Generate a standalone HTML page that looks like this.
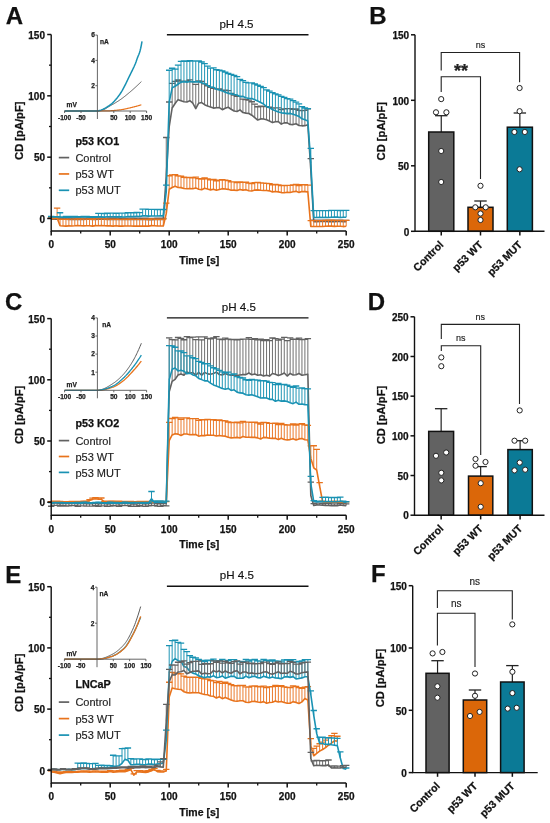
<!DOCTYPE html>
<html><head><meta charset="utf-8"><style>
html,body{margin:0;padding:0;background:#fff;}
svg{display:block;font-family:"Liberation Sans", sans-serif;will-change:transform;}
</style></head><body>
<svg width="550" height="823" viewBox="0 0 550 823">
<rect width="550" height="823" fill="#fff"/>
<line x1="166.90" y1="34.80" x2="308.50" y2="34.80" stroke="#111" stroke-width="1.6" stroke-linecap="butt"/>
<text x="236.5" y="27.6" font-size="11.6" font-weight="normal" text-anchor="middle" fill="#111" stroke="#111" stroke-width="0.15">pH 4.5</text>
<path d="M51.20 219.18V217.95M54.15 219.25V218.02M57.10 219.08V217.85M60.05 219.30V218.07M63.00 219.14V217.91M65.95 219.21V217.98M68.90 219.33V218.11M71.85 219.18V217.95M74.80 219.36V218.13M77.75 219.22V218.00M80.70 219.37V218.14M83.65 219.37V218.14M86.60 219.26V218.03M89.55 219.12V217.89M92.50 219.39V218.16M95.45 219.36V218.13M98.40 219.22V217.99M101.35 219.11V217.88M104.30 219.26V218.03M107.25 219.33V218.11M110.20 219.13V217.90M113.15 219.48V218.25M116.10 219.19V217.97M119.05 219.41V218.18M122.00 219.47V218.25M124.95 219.49V218.27M127.90 219.43V218.21M130.85 219.26V218.03M133.80 219.50V218.27M136.75 219.36V218.13M139.70 219.35V218.12M142.65 219.46V218.23M145.60 219.40V218.18M148.55 219.59V218.36M151.50 219.60V218.37M154.45 219.56V218.33M157.40 219.39V218.17M160.35 219.49V218.27M163.30 219.55V218.32M166.25 175.53V137.51M169.20 126.51V101.98M172.15 107.97V83.44M175.10 103.44V81.36M178.05 99.63V80.01M181.00 100.68V81.06M183.95 101.73V81.30M186.90 101.98V81.13M189.85 100.69V79.84M192.80 103.13V81.69M195.75 108.61V84.37M198.70 103.21V80.83M201.65 102.56V81.37M204.60 104.72V83.87M207.55 106.09V85.73M210.50 106.94V87.31M213.45 108.10V88.47M216.40 107.70V88.90M219.35 107.67V88.86M222.30 109.71V90.24M225.25 108.21V90.19M228.20 107.25V90.62M231.15 109.24V93.29M234.10 111.04V95.09M237.05 111.46V96.33M240.00 109.86V96.37M242.95 112.57V99.07M245.90 113.12V99.63M248.85 113.54V100.04M251.80 115.24V101.75M254.75 117.64V104.15M257.70 120.05V106.75M260.65 118.90V106.21M263.60 119.07V106.60M266.55 119.77V106.68M269.50 121.03V107.24M272.45 122.60V107.98M275.40 121.79V107.80M278.35 121.58V107.80M281.30 124.08V109.59M284.25 122.88V108.83M287.20 122.90V108.68M290.15 124.45V108.57M293.10 124.59V109.24M296.05 123.72V108.99M299.00 125.47V110.34M301.95 125.83V110.49M304.90 125.65V110.32M307.85 124.82V108.87M310.80 169.59V158.55M313.75 221.71V220.24M316.70 221.67V220.20M319.65 221.55V220.08M322.60 221.57V220.10M325.55 221.56V220.08M328.50 221.77V220.30M331.45 221.72V220.25M334.40 221.74V220.27M337.35 221.55V220.08M340.30 221.52V220.05M343.25 221.82V220.35M346.20 221.81V220.34" stroke="#707070" stroke-width="1.0" fill="none"/>
<path d="M48.00 217.95H54.40M50.95 218.02H57.35M53.90 217.85H60.30M56.85 218.07H63.25M59.80 217.91H66.20M62.75 217.98H69.15M65.70 218.11H72.10M68.65 217.95H75.05M71.60 218.13H78.00M74.55 218.00H80.95M77.50 218.14H83.90M80.45 218.14H86.85M83.40 218.03H89.80M86.35 217.89H92.75M89.30 218.16H95.70M92.25 218.13H98.65M95.20 217.99H101.60M98.15 217.88H104.55M101.10 218.03H107.50M104.05 218.11H110.45M107.00 217.90H113.40M109.95 218.25H116.35M112.90 217.97H119.30M115.85 218.18H122.25M118.80 218.25H125.20M121.75 218.27H128.15M124.70 218.21H131.10M127.65 218.03H134.05M130.60 218.27H137.00M133.55 218.13H139.95M136.50 218.12H142.90M139.45 218.23H145.85M142.40 218.18H148.80M145.35 218.36H151.75M148.30 218.37H154.70M151.25 218.33H157.65M154.20 218.17H160.60M157.15 218.27H163.55M160.10 218.32H166.50M163.05 137.51H169.45M166.00 101.98H172.40M168.95 83.44H175.35M171.90 81.36H178.30M174.85 80.01H181.25M177.80 81.06H184.20M180.75 81.30H187.15M183.70 81.13H190.10M186.65 79.84H193.05M189.60 81.69H196.00M192.55 84.37H198.95M195.50 80.83H201.90M198.45 81.37H204.85M201.40 83.87H207.80M204.35 85.73H210.75M207.30 87.31H213.70M210.25 88.47H216.65M213.20 88.90H219.60M216.15 88.86H222.55M219.10 90.24H225.50M222.05 90.19H228.45M225.00 90.62H231.40M227.95 93.29H234.35M230.90 95.09H237.30M233.85 96.33H240.25M236.80 96.37H243.20M239.75 99.07H246.15M242.70 99.63H249.10M245.65 100.04H252.05M248.60 101.75H255.00M251.55 104.15H257.95M254.50 106.75H260.90M257.45 106.21H263.85M260.40 106.60H266.80M263.35 106.68H269.75M266.30 107.24H272.70M269.25 107.98H275.65M272.20 107.80H278.60M275.15 107.80H281.55M278.10 109.59H284.50M281.05 108.83H287.45M284.00 108.68H290.40M286.95 108.57H293.35M289.90 109.24H296.30M292.85 108.99H299.25M295.80 110.34H302.20M298.75 110.49H305.15M301.70 110.32H308.10M304.65 108.87H311.05M307.60 158.55H314.00M310.55 220.24H316.95M313.50 220.20H319.90M316.45 220.08H322.85M319.40 220.10H325.80M322.35 220.08H328.75M325.30 220.30H331.70M328.25 220.25H334.65M331.20 220.27H337.60M334.15 220.08H340.55M337.10 220.05H343.50M340.05 220.35H346.45M343.00 220.34H349.40" stroke="#616161" stroke-width="1.3" fill="none"/>
<path d="M51.20 219.18 L54.15 219.25 L57.10 219.08 L60.05 219.30 L63.00 219.14 L65.95 219.21 L68.90 219.33 L71.85 219.18 L74.80 219.36 L77.75 219.22 L80.70 219.37 L83.65 219.37 L86.60 219.26 L89.55 219.12 L92.50 219.39 L95.45 219.36 L98.40 219.22 L101.35 219.11 L104.30 219.26 L107.25 219.33 L110.20 219.13 L113.15 219.48 L116.10 219.19 L119.05 219.41 L122.00 219.47 L124.95 219.49 L127.90 219.43 L130.85 219.26 L133.80 219.50 L136.75 219.36 L139.70 219.35 L142.65 219.46 L145.60 219.40 L148.55 219.59 L151.50 219.60 L154.45 219.56 L157.40 219.39 L160.35 219.49 L163.30 219.55 L166.25 175.53 L169.20 126.51 L172.15 107.97 L175.10 103.44 L178.05 99.63 L181.00 100.68 L183.95 101.73 L186.90 101.98 L189.85 100.69 L192.80 103.13 L195.75 108.61 L198.70 103.21 L201.65 102.56 L204.60 104.72 L207.55 106.09 L210.50 106.94 L213.45 108.10 L216.40 107.70 L219.35 107.67 L222.30 109.71 L225.25 108.21 L228.20 107.25 L231.15 109.24 L234.10 111.04 L237.05 111.46 L240.00 109.86 L242.95 112.57 L245.90 113.12 L248.85 113.54 L251.80 115.24 L254.75 117.64 L257.70 120.05 L260.65 118.90 L263.60 119.07 L266.55 119.77 L269.50 121.03 L272.45 122.60 L275.40 121.79 L278.35 121.58 L281.30 124.08 L284.25 122.88 L287.20 122.90 L290.15 124.45 L293.10 124.59 L296.05 123.72 L299.00 125.47 L301.95 125.83 L304.90 125.65 L307.85 124.82 L310.80 169.59 L313.75 221.71 L316.70 221.67 L319.65 221.55 L322.60 221.57 L325.55 221.56 L328.50 221.77 L331.45 221.72 L334.40 221.74 L337.35 221.55 L340.30 221.52 L343.25 221.82 L346.20 221.81" stroke="#616161" stroke-width="1.6" fill="none" stroke-linejoin="round"/>
<path d="M51.20 218.65V218.03M54.15 218.65V217.42M57.10 217.89V208.08M60.05 225.81V219.06M63.00 225.99V219.24M65.95 226.13V219.39M68.90 225.90V219.16M71.85 225.93V219.19M74.80 225.82V219.08M77.75 225.61V218.86M80.70 225.76V219.01M83.65 225.85V219.10M86.60 225.80V219.05M89.55 225.76V219.02M92.50 226.11V219.36M95.45 225.64V218.89M98.40 225.71V218.96M101.35 225.65V218.91M104.30 225.70V218.95M107.25 225.92V219.17M110.20 225.92V219.17M113.15 226.08V219.33M116.10 225.79V219.04M119.05 226.10V219.35M122.00 226.10V219.35M124.95 226.02V219.27M127.90 226.05V219.30M130.85 225.95V219.20M133.80 226.11V219.36M136.75 226.14V219.39M139.70 226.05V219.31M142.65 226.08V219.33M145.60 225.94V219.19M148.55 226.12V219.38M151.50 225.65V218.91M154.45 225.80V219.05M157.40 226.05V219.31M160.35 226.00V219.25M163.30 225.94V219.20M166.25 213.67V203.12M169.20 189.27V175.77M172.15 187.50V174.92M175.10 186.31V174.66M178.05 187.47V175.93M181.00 187.62V176.21M183.95 188.53V177.25M186.90 188.69V177.52M189.85 188.43V177.39M192.80 188.76V177.84M195.75 187.90V177.11M198.70 189.31V178.64M201.65 189.75V179.20M204.60 188.23V177.80M207.55 189.09V178.89M210.50 189.87V179.90M213.45 189.23V179.47M216.40 190.26V180.73M219.35 189.42V180.11M222.30 188.67V179.59M225.25 188.96V180.11M228.20 189.35V180.72M231.15 190.23V181.83M234.10 190.12V181.94M237.05 190.57V182.62M240.00 189.54V181.81M242.95 190.10V182.43M245.90 189.77V182.15M248.85 190.72V183.15M251.80 191.04V183.52M254.75 190.08V182.61M257.70 189.88V182.46M260.65 190.25V182.88M263.60 190.46V183.14M266.55 190.56V183.29M269.50 190.83V183.61M272.45 191.89V184.73M275.40 191.48V184.37M278.35 191.88V184.79M281.30 192.58V185.51M284.25 192.68V185.63M287.20 192.31V185.29M290.15 192.45V185.45M293.10 191.75V184.78M296.05 191.36V184.42M299.00 192.39V185.48M301.95 191.59V184.70M304.90 191.60V184.73M307.85 191.90V185.16M310.80 226.43V220.54M313.75 226.51V220.62M316.70 226.50V220.61M319.65 226.52V220.63M322.60 226.51V220.63M325.55 226.28V220.39M328.50 226.13V220.24M331.45 226.16V220.27M334.40 226.36V220.47M337.35 226.27V220.38M340.30 226.19V220.30M343.25 226.58V220.69M346.20 226.26V220.37" stroke="#ea7b2e" stroke-width="1.0" fill="none"/>
<path d="M48.00 218.03H54.40M50.95 217.42H57.35M53.90 208.08H60.30M56.85 219.06H63.25M59.80 219.24H66.20M62.75 219.39H69.15M65.70 219.16H72.10M68.65 219.19H75.05M71.60 219.08H78.00M74.55 218.86H80.95M77.50 219.01H83.90M80.45 219.10H86.85M83.40 219.05H89.80M86.35 219.02H92.75M89.30 219.36H95.70M92.25 218.89H98.65M95.20 218.96H101.60M98.15 218.91H104.55M101.10 218.95H107.50M104.05 219.17H110.45M107.00 219.17H113.40M109.95 219.33H116.35M112.90 219.04H119.30M115.85 219.35H122.25M118.80 219.35H125.20M121.75 219.27H128.15M124.70 219.30H131.10M127.65 219.20H134.05M130.60 219.36H137.00M133.55 219.39H139.95M136.50 219.31H142.90M139.45 219.33H145.85M142.40 219.19H148.80M145.35 219.38H151.75M148.30 218.91H154.70M151.25 219.05H157.65M154.20 219.31H160.60M157.15 219.25H163.55M160.10 219.20H166.50M163.05 203.12H169.45M166.00 175.77H172.40M168.95 174.92H175.35M171.90 174.66H178.30M174.85 175.93H181.25M177.80 176.21H184.20M180.75 177.25H187.15M183.70 177.52H190.10M186.65 177.39H193.05M189.60 177.84H196.00M192.55 177.11H198.95M195.50 178.64H201.90M198.45 179.20H204.85M201.40 177.80H207.80M204.35 178.89H210.75M207.30 179.90H213.70M210.25 179.47H216.65M213.20 180.73H219.60M216.15 180.11H222.55M219.10 179.59H225.50M222.05 180.11H228.45M225.00 180.72H231.40M227.95 181.83H234.35M230.90 181.94H237.30M233.85 182.62H240.25M236.80 181.81H243.20M239.75 182.43H246.15M242.70 182.15H249.10M245.65 183.15H252.05M248.60 183.52H255.00M251.55 182.61H257.95M254.50 182.46H260.90M257.45 182.88H263.85M260.40 183.14H266.80M263.35 183.29H269.75M266.30 183.61H272.70M269.25 184.73H275.65M272.20 184.37H278.60M275.15 184.79H281.55M278.10 185.51H284.50M281.05 185.63H287.45M284.00 185.29H290.40M286.95 185.45H293.35M289.90 184.78H296.30M292.85 184.42H299.25M295.80 185.48H302.20M298.75 184.70H305.15M301.70 184.73H308.10M304.65 185.16H311.05M307.60 220.54H314.00M310.55 220.62H316.95M313.50 220.61H319.90M316.45 220.63H322.85M319.40 220.63H325.80M322.35 220.39H328.75M325.30 220.24H331.70M328.25 220.27H334.65M331.20 220.47H337.60M334.15 220.38H340.55M337.10 220.30H343.50M340.05 220.69H346.45M343.00 220.37H349.40" stroke="#e8731c" stroke-width="1.3" fill="none"/>
<path d="M51.20 218.65 L54.15 218.65 L57.10 217.89 L60.05 225.81 L63.00 225.99 L65.95 226.13 L68.90 225.90 L71.85 225.93 L74.80 225.82 L77.75 225.61 L80.70 225.76 L83.65 225.85 L86.60 225.80 L89.55 225.76 L92.50 226.11 L95.45 225.64 L98.40 225.71 L101.35 225.65 L104.30 225.70 L107.25 225.92 L110.20 225.92 L113.15 226.08 L116.10 225.79 L119.05 226.10 L122.00 226.10 L124.95 226.02 L127.90 226.05 L130.85 225.95 L133.80 226.11 L136.75 226.14 L139.70 226.05 L142.65 226.08 L145.60 225.94 L148.55 226.12 L151.50 225.65 L154.45 225.80 L157.40 226.05 L160.35 226.00 L163.30 225.94 L166.25 213.67 L169.20 189.27 L172.15 187.50 L175.10 186.31 L178.05 187.47 L181.00 187.62 L183.95 188.53 L186.90 188.69 L189.85 188.43 L192.80 188.76 L195.75 187.90 L198.70 189.31 L201.65 189.75 L204.60 188.23 L207.55 189.09 L210.50 189.87 L213.45 189.23 L216.40 190.26 L219.35 189.42 L222.30 188.67 L225.25 188.96 L228.20 189.35 L231.15 190.23 L234.10 190.12 L237.05 190.57 L240.00 189.54 L242.95 190.10 L245.90 189.77 L248.85 190.72 L251.80 191.04 L254.75 190.08 L257.70 189.88 L260.65 190.25 L263.60 190.46 L266.55 190.56 L269.50 190.83 L272.45 191.89 L275.40 191.48 L278.35 191.88 L281.30 192.58 L284.25 192.68 L287.20 192.31 L290.15 192.45 L293.10 191.75 L296.05 191.36 L299.00 192.39 L301.95 191.59 L304.90 191.60 L307.85 191.90 L310.80 226.43 L313.75 226.51 L316.70 226.50 L319.65 226.52 L322.60 226.51 L325.55 226.28 L328.50 226.13 L331.45 226.16 L334.40 226.36 L337.35 226.27 L340.30 226.19 L343.25 226.58 L346.20 226.26" stroke="#e8731c" stroke-width="1.6" fill="none" stroke-linejoin="round"/>
<path d="M51.20 216.85V216.48M54.15 216.90V216.54M57.10 216.92V216.55M60.05 217.04V212.74M65.95 216.90V216.51M68.90 217.10V216.69M71.85 216.90V216.46M74.80 216.82V216.36M77.75 217.07V216.59M80.70 217.07V216.57M83.65 216.83V216.31M86.60 216.93V216.38M89.55 217.17V216.60M92.50 217.19V216.60M95.45 217.18V216.57M98.40 216.85V213.41M101.35 216.86V213.39M104.30 217.11V213.61M107.25 216.78V213.24M110.20 216.68V213.10M113.15 216.78V213.17M116.10 216.88V213.24M119.05 216.76V213.08M122.00 216.91V213.20M124.95 216.93V213.18M127.90 216.47V212.68M130.85 216.58V212.76M133.80 216.60V212.74M136.75 216.38V212.49M139.70 216.57V212.64M142.65 215.88V209.14M145.60 215.87V209.17M148.55 216.11V209.46M151.50 216.06V209.46M154.45 216.01V209.46M157.40 216.00V209.50M160.35 215.81V209.36M163.30 215.92V209.52M166.25 191.55V185.05M169.20 102.13V70.23M172.15 87.87V68.24M175.10 86.23V69.06M178.05 84.24V65.22M181.00 82.21V61.36M183.95 81.65V60.80M186.90 82.27V61.42M189.85 81.45V60.60M192.80 81.97V61.12M195.75 81.84V60.98M198.70 81.76V60.91M201.65 82.74V62.02M204.60 83.65V63.59M207.55 85.56V66.15M210.50 87.22V68.11M213.45 87.23V67.88M216.40 89.33V69.75M219.35 90.07V70.25M222.30 90.87V70.82M225.25 92.22V72.05M228.20 93.35V73.51M231.15 93.85V74.36M234.10 94.58V75.43M237.05 94.94V76.62M240.00 96.59V79.42M242.95 96.58V80.55M245.90 97.75V82.35M248.85 98.51V82.96M251.80 98.59V82.87M254.75 99.79V83.91M257.70 101.08V85.03M260.65 102.54V86.32M263.60 104.07V87.67M266.55 106.52V89.94M269.50 107.88V91.14M272.45 109.45V92.57M275.40 110.85V93.83M278.35 111.99V94.83M281.30 112.85V96.36M284.25 113.16V97.42M287.20 113.66V98.67M290.15 113.40V99.16M293.10 114.18V100.69M296.05 115.24V102.21M299.00 116.46V103.89M301.95 118.79V106.67M304.90 119.66V108.01M307.85 120.94V108.67M310.80 163.15V148.43M313.75 217.43V210.69M316.70 217.44V210.69M319.65 217.30V210.55M322.60 217.46V210.72M325.55 217.39V210.64M328.50 217.46V210.71M331.45 217.20V210.45M334.40 217.15V210.40M337.35 217.10V210.35M340.30 217.43V210.68M343.25 217.18V210.43M346.20 217.20V210.46" stroke="#2196b5" stroke-width="1.0" fill="none"/>
<path d="M48.00 216.48H54.40M50.95 216.54H57.35M53.90 216.55H60.30M56.85 212.74H63.25M62.75 216.51H69.15M65.70 216.69H72.10M68.65 216.46H75.05M71.60 216.36H78.00M74.55 216.59H80.95M77.50 216.57H83.90M80.45 216.31H86.85M83.40 216.38H89.80M86.35 216.60H92.75M89.30 216.60H95.70M92.25 216.57H98.65M95.20 213.41H101.60M98.15 213.39H104.55M101.10 213.61H107.50M104.05 213.24H110.45M107.00 213.10H113.40M109.95 213.17H116.35M112.90 213.24H119.30M115.85 213.08H122.25M118.80 213.20H125.20M121.75 213.18H128.15M124.70 212.68H131.10M127.65 212.76H134.05M130.60 212.74H137.00M133.55 212.49H139.95M136.50 212.64H142.90M139.45 209.14H145.85M142.40 209.17H148.80M145.35 209.46H151.75M148.30 209.46H154.70M151.25 209.46H157.65M154.20 209.50H160.60M157.15 209.36H163.55M160.10 209.52H166.50M163.05 185.05H169.45M166.00 70.23H172.40M168.95 68.24H175.35M171.90 69.06H178.30M174.85 65.22H181.25M177.80 61.36H184.20M180.75 60.80H187.15M183.70 61.42H190.10M186.65 60.60H193.05M189.60 61.12H196.00M192.55 60.98H198.95M195.50 60.91H201.90M198.45 62.02H204.85M201.40 63.59H207.80M204.35 66.15H210.75M207.30 68.11H213.70M210.25 67.88H216.65M213.20 69.75H219.60M216.15 70.25H222.55M219.10 70.82H225.50M222.05 72.05H228.45M225.00 73.51H231.40M227.95 74.36H234.35M230.90 75.43H237.30M233.85 76.62H240.25M236.80 79.42H243.20M239.75 80.55H246.15M242.70 82.35H249.10M245.65 82.96H252.05M248.60 82.87H255.00M251.55 83.91H257.95M254.50 85.03H260.90M257.45 86.32H263.85M260.40 87.67H266.80M263.35 89.94H269.75M266.30 91.14H272.70M269.25 92.57H275.65M272.20 93.83H278.60M275.15 94.83H281.55M278.10 96.36H284.50M281.05 97.42H287.45M284.00 98.67H290.40M286.95 99.16H293.35M289.90 100.69H296.30M292.85 102.21H299.25M295.80 103.89H302.20M298.75 106.67H305.15M301.70 108.01H308.10M304.65 108.67H311.05M307.60 148.43H314.00M310.55 210.69H316.95M313.50 210.69H319.90M316.45 210.55H322.85M319.40 210.72H325.80M322.35 210.64H328.75M325.30 210.71H331.70M328.25 210.45H334.65M331.20 210.40H337.60M334.15 210.35H340.55M337.10 210.68H343.50M340.05 210.43H346.45M343.00 210.46H349.40" stroke="#1992b3" stroke-width="1.3" fill="none"/>
<path d="M51.20 216.85 L54.15 216.90 L57.10 216.92 L60.05 217.04 L63.00 217.17 L65.95 216.90 L68.90 217.10 L71.85 216.90 L74.80 216.82 L77.75 217.07 L80.70 217.07 L83.65 216.83 L86.60 216.93 L89.55 217.17 L92.50 217.19 L95.45 217.18 L98.40 216.85 L101.35 216.86 L104.30 217.11 L107.25 216.78 L110.20 216.68 L113.15 216.78 L116.10 216.88 L119.05 216.76 L122.00 216.91 L124.95 216.93 L127.90 216.47 L130.85 216.58 L133.80 216.60 L136.75 216.38 L139.70 216.57 L142.65 215.88 L145.60 215.87 L148.55 216.11 L151.50 216.06 L154.45 216.01 L157.40 216.00 L160.35 215.81 L163.30 215.92 L166.25 191.55 L169.20 102.13 L172.15 87.87 L175.10 86.23 L178.05 84.24 L181.00 82.21 L183.95 81.65 L186.90 82.27 L189.85 81.45 L192.80 81.97 L195.75 81.84 L198.70 81.76 L201.65 82.74 L204.60 83.65 L207.55 85.56 L210.50 87.22 L213.45 87.23 L216.40 89.33 L219.35 90.07 L222.30 90.87 L225.25 92.22 L228.20 93.35 L231.15 93.85 L234.10 94.58 L237.05 94.94 L240.00 96.59 L242.95 96.58 L245.90 97.75 L248.85 98.51 L251.80 98.59 L254.75 99.79 L257.70 101.08 L260.65 102.54 L263.60 104.07 L266.55 106.52 L269.50 107.88 L272.45 109.45 L275.40 110.85 L278.35 111.99 L281.30 112.85 L284.25 113.16 L287.20 113.66 L290.15 113.40 L293.10 114.18 L296.05 115.24 L299.00 116.46 L301.95 118.79 L304.90 119.66 L307.85 120.94 L310.80 163.15 L313.75 217.43 L316.70 217.44 L319.65 217.30 L322.60 217.46 L325.55 217.39 L328.50 217.46 L331.45 217.20 L334.40 217.15 L337.35 217.10 L340.30 217.43 L343.25 217.18 L346.20 217.20" stroke="#1992b3" stroke-width="1.6" fill="none" stroke-linejoin="round"/>
<path d="M51.20 34.50V231.00H346.20" stroke="#111" stroke-width="1.4" fill="none"/>
<line x1="47.20" y1="218.50" x2="51.20" y2="218.50" stroke="#111" stroke-width="1.5" stroke-linecap="butt"/>
<text x="45.0" y="222.7" font-size="10" font-weight="bold" text-anchor="end" fill="#111" stroke="#111" stroke-width="0.25">0</text>
<line x1="47.20" y1="157.17" x2="51.20" y2="157.17" stroke="#111" stroke-width="1.5" stroke-linecap="butt"/>
<text x="45.0" y="161.4" font-size="10" font-weight="bold" text-anchor="end" fill="#111" stroke="#111" stroke-width="0.25">50</text>
<line x1="47.20" y1="95.83" x2="51.20" y2="95.83" stroke="#111" stroke-width="1.5" stroke-linecap="butt"/>
<text x="45.0" y="100.0" font-size="10" font-weight="bold" text-anchor="end" fill="#111" stroke="#111" stroke-width="0.25">100</text>
<line x1="47.20" y1="34.50" x2="51.20" y2="34.50" stroke="#111" stroke-width="1.5" stroke-linecap="butt"/>
<text x="45.0" y="38.7" font-size="10" font-weight="bold" text-anchor="end" fill="#111" stroke="#111" stroke-width="0.25">150</text>
<line x1="49.00" y1="187.83" x2="51.20" y2="187.83" stroke="#111" stroke-width="1.3" stroke-linecap="butt"/>
<line x1="49.00" y1="126.50" x2="51.20" y2="126.50" stroke="#111" stroke-width="1.3" stroke-linecap="butt"/>
<line x1="49.00" y1="65.16" x2="51.20" y2="65.16" stroke="#111" stroke-width="1.3" stroke-linecap="butt"/>
<line x1="51.20" y1="231.00" x2="51.20" y2="235.50" stroke="#111" stroke-width="1.5" stroke-linecap="butt"/>
<text x="51.2" y="248.3" font-size="10" font-weight="bold" text-anchor="middle" fill="#111" stroke="#111" stroke-width="0.25">0</text>
<line x1="110.20" y1="231.00" x2="110.20" y2="235.50" stroke="#111" stroke-width="1.5" stroke-linecap="butt"/>
<text x="110.2" y="248.3" font-size="10" font-weight="bold" text-anchor="middle" fill="#111" stroke="#111" stroke-width="0.25">50</text>
<line x1="169.20" y1="231.00" x2="169.20" y2="235.50" stroke="#111" stroke-width="1.5" stroke-linecap="butt"/>
<text x="169.2" y="248.3" font-size="10" font-weight="bold" text-anchor="middle" fill="#111" stroke="#111" stroke-width="0.25">100</text>
<line x1="228.20" y1="231.00" x2="228.20" y2="235.50" stroke="#111" stroke-width="1.5" stroke-linecap="butt"/>
<text x="228.2" y="248.3" font-size="10" font-weight="bold" text-anchor="middle" fill="#111" stroke="#111" stroke-width="0.25">150</text>
<line x1="287.20" y1="231.00" x2="287.20" y2="235.50" stroke="#111" stroke-width="1.5" stroke-linecap="butt"/>
<text x="287.2" y="248.3" font-size="10" font-weight="bold" text-anchor="middle" fill="#111" stroke="#111" stroke-width="0.25">200</text>
<line x1="346.20" y1="231.00" x2="346.20" y2="235.50" stroke="#111" stroke-width="1.5" stroke-linecap="butt"/>
<text x="346.2" y="248.3" font-size="10" font-weight="bold" text-anchor="middle" fill="#111" stroke="#111" stroke-width="0.25">250</text>
<line x1="80.70" y1="231.00" x2="80.70" y2="233.50" stroke="#111" stroke-width="1.3" stroke-linecap="butt"/>
<line x1="139.70" y1="231.00" x2="139.70" y2="233.50" stroke="#111" stroke-width="1.3" stroke-linecap="butt"/>
<line x1="198.70" y1="231.00" x2="198.70" y2="233.50" stroke="#111" stroke-width="1.3" stroke-linecap="butt"/>
<line x1="257.70" y1="231.00" x2="257.70" y2="233.50" stroke="#111" stroke-width="1.3" stroke-linecap="butt"/>
<line x1="316.70" y1="231.00" x2="316.70" y2="233.50" stroke="#111" stroke-width="1.3" stroke-linecap="butt"/>
<text x="199.2" y="263.5" font-size="10.5" font-weight="bold" text-anchor="middle" fill="#111" stroke="#111" stroke-width="0.25">Time [s]</text>
<text x="23.0" y="130.7" font-size="11.2" font-weight="bold" text-anchor="middle" fill="#111" stroke="#111" stroke-width="0.25" transform="rotate(-90 23.0 130.7)">CD [pA/pF]</text>
<text x="5.8" y="23.6" font-size="24" font-weight="bold" text-anchor="start" fill="#111" stroke="#111" stroke-width="0.25">A</text>
<text x="75.4" y="145.0" font-size="10.8" font-weight="bold" text-anchor="start" fill="#111" stroke="#111" stroke-width="0.25">p53 KO1</text>
<line x1="58.80" y1="157.60" x2="69.20" y2="157.60" stroke="#616161" stroke-width="1.7" stroke-linecap="butt"/>
<text x="75.4" y="161.7" font-size="11" font-weight="normal" text-anchor="start" fill="#222" stroke="#222" stroke-width="0.15">Control</text>
<line x1="58.80" y1="173.95" x2="69.20" y2="173.95" stroke="#e8731c" stroke-width="1.7" stroke-linecap="butt"/>
<text x="75.4" y="178.0" font-size="11" font-weight="normal" text-anchor="start" fill="#222" stroke="#222" stroke-width="0.15">p53 WT</text>
<line x1="58.80" y1="190.30" x2="69.20" y2="190.30" stroke="#1992b3" stroke-width="1.7" stroke-linecap="butt"/>
<text x="75.4" y="194.4" font-size="11" font-weight="normal" text-anchor="start" fill="#222" stroke="#222" stroke-width="0.15">p53 MUT</text>
<path d="M64.60 111.00 L65.26 111.00 L65.91 111.00 L66.57 111.00 L67.22 111.00 L67.88 111.00 L68.54 111.00 L69.19 111.00 L69.85 111.00 L70.50 111.00 L71.16 111.00 L71.82 111.00 L72.47 111.00 L73.13 111.00 L73.78 111.00 L74.44 111.00 L75.10 111.00 L75.75 111.00 L76.41 111.00 L77.06 111.00 L77.72 111.00 L78.38 111.00 L79.03 111.00 L79.69 111.00 L80.34 111.00 L81.00 111.00 L81.66 111.00 L82.31 111.00 L82.97 111.00 L83.62 111.00 L84.28 111.00 L84.94 111.00 L85.59 111.00 L86.25 111.00 L86.90 111.00 L87.56 111.00 L88.22 111.00 L88.87 111.00 L89.53 111.00 L90.18 111.00 L90.84 111.00 L91.50 111.00 L92.15 111.00 L92.81 111.00 L93.46 111.00 L94.12 111.00 L94.78 111.00 L95.43 111.00 L96.09 111.00 L96.74 111.00 L97.40 111.00 L98.06 110.99 L98.71 110.95 L99.37 110.89 L100.02 110.82 L100.68 110.75 L101.34 110.63 L101.99 110.46 L102.65 110.23 L103.30 109.95 L103.96 109.63 L104.62 109.28 L105.27 108.89 L105.93 108.49 L106.58 108.07 L107.24 107.65 L107.90 107.22 L108.55 106.80 L109.21 106.40 L109.86 106.01 L110.52 105.65 L111.18 105.28 L111.83 104.90 L112.49 104.53 L113.14 104.15 L113.80 103.77 L114.46 103.38 L115.11 102.99 L115.77 102.59 L116.42 102.18 L117.08 101.77 L117.74 101.36 L118.39 100.93 L119.05 100.50 L119.70 100.06 L120.36 99.61 L121.02 99.16 L121.67 98.69 L122.33 98.21 L122.98 97.72 L123.64 97.22 L124.30 96.71 L124.95 96.19 L125.61 95.67 L126.26 95.14 L126.92 94.60 L127.58 94.06 L128.23 93.52 L128.89 92.97 L129.54 92.41 L130.20 91.86 L130.86 91.30 L131.51 90.73 L132.17 90.16 L132.82 89.59 L133.48 89.00 L134.14 88.42 L134.79 87.82 L135.45 87.23 L136.10 86.62 L136.76 86.01 L137.42 85.40 L138.07 84.78 L138.73 84.15 L139.38 83.52 L140.04 82.89 L140.70 82.24 L141.35 81.60" stroke="#5a5a5a" stroke-width="1.0" fill="none" stroke-linejoin="round"/>
<path d="M64.60 111.00 L65.26 111.00 L65.91 111.00 L66.57 111.00 L67.22 111.00 L67.88 111.00 L68.54 111.00 L69.19 111.00 L69.85 111.00 L70.50 111.00 L71.16 111.00 L71.82 111.00 L72.47 111.00 L73.13 111.00 L73.78 111.00 L74.44 111.00 L75.10 111.00 L75.75 111.00 L76.41 111.00 L77.06 111.00 L77.72 111.00 L78.38 111.00 L79.03 111.00 L79.69 111.00 L80.34 111.00 L81.00 111.00 L81.66 111.00 L82.31 111.00 L82.97 111.00 L83.62 111.00 L84.28 111.00 L84.94 111.00 L85.59 111.00 L86.25 111.00 L86.90 111.00 L87.56 111.00 L88.22 111.00 L88.87 111.00 L89.53 111.00 L90.18 111.00 L90.84 111.00 L91.50 111.00 L92.15 111.00 L92.81 111.00 L93.46 111.00 L94.12 111.00 L94.78 111.00 L95.43 111.00 L96.09 111.00 L96.74 111.00 L97.40 111.00 L98.06 111.00 L98.71 111.00 L99.37 110.99 L100.02 110.99 L100.68 110.98 L101.34 110.98 L101.99 110.97 L102.65 110.96 L103.30 110.95 L103.96 110.94 L104.62 110.93 L105.27 110.91 L105.93 110.90 L106.58 110.89 L107.24 110.87 L107.90 110.86 L108.55 110.83 L109.21 110.81 L109.86 110.78 L110.52 110.74 L111.18 110.70 L111.83 110.66 L112.49 110.61 L113.14 110.56 L113.80 110.50 L114.46 110.44 L115.11 110.38 L115.77 110.32 L116.42 110.25 L117.08 110.19 L117.74 110.12 L118.39 110.04 L119.05 109.97 L119.70 109.90 L120.36 109.82 L121.02 109.73 L121.67 109.63 L122.33 109.53 L122.98 109.41 L123.64 109.29 L124.30 109.16 L124.95 109.03 L125.61 108.89 L126.26 108.74 L126.92 108.60 L127.58 108.45 L128.23 108.29 L128.89 108.14 L129.54 107.99 L130.20 107.84 L130.86 107.68 L131.51 107.53 L132.17 107.37 L132.82 107.20 L133.48 107.04 L134.14 106.87 L134.79 106.69 L135.45 106.52 L136.10 106.33 L136.76 106.15 L137.42 105.96 L138.07 105.77 L138.73 105.58 L139.38 105.38 L140.04 105.19 L140.70 104.98 L141.35 104.78" stroke="#e8731c" stroke-width="1.2" fill="none" stroke-linejoin="round"/>
<path d="M64.60 111.00 L65.26 111.00 L65.91 111.00 L66.57 111.00 L67.22 111.00 L67.88 111.00 L68.54 111.00 L69.19 111.00 L69.85 111.00 L70.50 111.00 L71.16 111.00 L71.82 111.00 L72.47 111.00 L73.13 111.00 L73.78 111.00 L74.44 111.00 L75.10 111.00 L75.75 111.00 L76.41 111.00 L77.06 111.00 L77.72 111.00 L78.38 111.00 L79.03 111.00 L79.69 111.00 L80.34 111.00 L81.00 111.00 L81.66 111.00 L82.31 111.00 L82.97 111.00 L83.62 111.00 L84.28 111.00 L84.94 111.00 L85.59 111.00 L86.25 111.00 L86.90 111.00 L87.56 111.00 L88.22 111.00 L88.87 111.00 L89.53 111.00 L90.18 111.00 L90.84 111.00 L91.50 111.00 L92.15 111.00 L92.81 111.00 L93.46 111.00 L94.12 111.00 L94.78 111.00 L95.43 111.00 L96.09 111.00 L96.74 111.00 L97.40 111.00 L98.06 110.94 L98.71 110.78 L99.37 110.57 L100.02 110.36 L100.68 110.14 L101.34 109.90 L101.99 109.64 L102.65 109.37 L103.30 109.07 L103.96 108.75 L104.62 108.42 L105.27 108.06 L105.93 107.70 L106.58 107.31 L107.24 106.91 L107.90 106.49 L108.55 106.06 L109.21 105.61 L109.86 105.15 L110.52 104.67 L111.18 104.14 L111.83 103.59 L112.49 102.99 L113.14 102.36 L113.80 101.69 L114.46 101.00 L115.11 100.27 L115.77 99.52 L116.42 98.73 L117.08 97.93 L117.74 97.09 L118.39 96.24 L119.05 95.36 L119.70 94.46 L120.36 93.53 L121.02 92.54 L121.67 91.48 L122.33 90.36 L122.98 89.18 L123.64 87.96 L124.30 86.69 L124.95 85.39 L125.61 84.07 L126.26 82.72 L126.92 81.35 L127.58 79.98 L128.23 78.61 L128.89 77.24 L129.54 75.89 L130.20 74.55 L130.86 73.23 L131.51 71.92 L132.17 70.61 L132.82 69.28 L133.48 67.91 L134.14 66.49 L134.79 65.00 L135.45 63.44 L136.10 61.78 L136.76 59.82 L137.42 57.87 L138.07 56.28 L138.73 54.75 L139.38 52.99 L140.04 50.91 L140.70 48.27 L141.35 45.11 L142.01 41.42" stroke="#1992b3" stroke-width="1.5" fill="none" stroke-linejoin="round"/>
<line x1="64.60" y1="111.00" x2="146.60" y2="111.00" stroke="#555" stroke-width="0.9" stroke-linecap="butt"/>
<line x1="97.40" y1="35.10" x2="97.40" y2="119.00" stroke="#555" stroke-width="0.9" stroke-linecap="butt"/>
<line x1="95.40" y1="85.70" x2="97.40" y2="85.70" stroke="#555" stroke-width="0.9" stroke-linecap="butt"/>
<text x="94.9" y="88.0" font-size="6.6" font-weight="bold" text-anchor="end" fill="#222" stroke="#222" stroke-width="0.25">2</text>
<line x1="95.40" y1="60.40" x2="97.40" y2="60.40" stroke="#555" stroke-width="0.9" stroke-linecap="butt"/>
<text x="94.9" y="62.7" font-size="6.6" font-weight="bold" text-anchor="end" fill="#222" stroke="#222" stroke-width="0.25">4</text>
<line x1="95.40" y1="35.10" x2="97.40" y2="35.10" stroke="#555" stroke-width="0.9" stroke-linecap="butt"/>
<text x="94.9" y="37.4" font-size="6.6" font-weight="bold" text-anchor="end" fill="#222" stroke="#222" stroke-width="0.25">6</text>
<line x1="64.60" y1="111.00" x2="64.60" y2="113.00" stroke="#555" stroke-width="0.9" stroke-linecap="butt"/>
<text x="64.6" y="120.0" font-size="6.6" font-weight="bold" text-anchor="middle" fill="#222" stroke="#222" stroke-width="0.25">-100</text>
<line x1="81.00" y1="111.00" x2="81.00" y2="113.00" stroke="#555" stroke-width="0.9" stroke-linecap="butt"/>
<text x="81.0" y="120.0" font-size="6.6" font-weight="bold" text-anchor="middle" fill="#222" stroke="#222" stroke-width="0.25">-50</text>
<line x1="113.80" y1="111.00" x2="113.80" y2="113.00" stroke="#555" stroke-width="0.9" stroke-linecap="butt"/>
<text x="113.8" y="120.0" font-size="6.6" font-weight="bold" text-anchor="middle" fill="#222" stroke="#222" stroke-width="0.25">50</text>
<line x1="130.20" y1="111.00" x2="130.20" y2="113.00" stroke="#555" stroke-width="0.9" stroke-linecap="butt"/>
<text x="130.2" y="120.0" font-size="6.6" font-weight="bold" text-anchor="middle" fill="#222" stroke="#222" stroke-width="0.25">100</text>
<line x1="146.60" y1="111.00" x2="146.60" y2="113.00" stroke="#555" stroke-width="0.9" stroke-linecap="butt"/>
<text x="146.6" y="120.0" font-size="6.6" font-weight="bold" text-anchor="middle" fill="#222" stroke="#222" stroke-width="0.25">150</text>
<text x="99.9" y="44.1" font-size="6.6" font-weight="bold" text-anchor="start" fill="#222" stroke="#222" stroke-width="0.25">nA</text>
<text x="66.6" y="107.4" font-size="6.6" font-weight="bold" text-anchor="start" fill="#222" stroke="#222" stroke-width="0.25">mV</text>
<line x1="166.90" y1="317.90" x2="308.50" y2="317.90" stroke="#111" stroke-width="1.4" stroke-linecap="butt"/>
<text x="238.9" y="310.7" font-size="11.6" font-weight="normal" text-anchor="middle" fill="#111" stroke="#111" stroke-width="0.15">pH 4.5</text>
<path d="M51.20 503.82V506.27M54.15 503.00V505.45M57.10 502.91V505.36M60.05 503.73V506.18M63.00 502.93V505.37M65.95 503.54V505.98M68.90 503.44V505.89M71.85 502.88V505.33M74.80 503.06V505.51M77.75 503.80V506.24M80.70 503.50V505.95M83.65 503.41V505.85M86.60 503.60V506.05M89.55 503.76V506.21M92.50 503.62V506.07M95.45 503.18V505.63M98.40 503.95V506.40M101.35 503.36V505.81M104.30 503.49V505.94M107.25 503.95V506.40M110.20 503.61V506.06M113.15 503.29V505.74M116.10 503.41V505.86M119.05 503.90V506.35M122.00 502.89V505.34M124.95 503.11V505.55M127.90 502.90V505.35M130.85 503.86V506.31M133.80 503.68V506.13M136.75 503.93V506.38M139.70 503.12V505.56M142.65 503.68V506.12M145.60 503.83V506.28M148.55 503.51V505.96M151.50 502.97V505.42M154.45 503.07V505.52M157.40 503.69V506.14M160.35 503.81V506.26M163.30 502.96V505.41M166.25 503.35V505.79M169.20 391.82V337.96M172.15 381.31V339.69M175.10 379.38V339.81M178.05 375.03V337.49M181.00 373.95V338.46M183.95 375.25V339.75M186.90 372.07V336.57M189.85 373.19V337.69M192.80 372.57V337.08M195.75 375.21V339.71M198.70 372.37V336.88M201.65 375.27V339.78M204.60 372.35V336.85M207.55 373.85V338.35M210.50 374.27V338.77M213.45 373.49V337.99M216.40 372.11V336.62M219.35 374.53V339.04M222.30 375.04V339.55M225.25 373.58V338.09M228.20 374.64V339.14M231.15 375.16V339.66M234.10 375.01V339.52M237.05 375.47V339.97M240.00 374.96V339.46M242.95 374.60V339.10M245.90 374.67V339.17M248.85 373.04V337.55M251.80 374.81V339.32M254.75 374.09V338.59M257.70 375.32V339.82M260.65 374.74V339.24M263.60 375.99V340.50M266.55 375.19V339.69M269.50 376.09V340.60M272.45 373.50V338.01M275.40 374.22V338.72M278.35 375.59V340.09M281.30 374.59V339.09M284.25 372.95V337.45M287.20 376.03V340.54M290.15 373.46V337.96M293.10 374.93V339.43M296.05 374.74V339.25M299.00 373.54V338.04M301.95 375.21V339.71M304.90 374.83V339.34M307.85 374.21V338.72M310.80 495.55V482.08M313.75 505.43V503.60M316.70 504.89V503.06M319.65 505.03V503.20M322.60 505.11V503.27M325.55 505.36V503.53M328.50 505.43V503.59M331.45 505.75V503.91M334.40 505.67V503.83M337.35 505.73V503.90M340.30 504.99V503.16M343.25 505.53V503.69M346.20 505.63V503.79" stroke="#707070" stroke-width="1.0" fill="none"/>
<path d="M48.00 506.27H54.40M50.95 505.45H57.35M53.90 505.36H60.30M56.85 506.18H63.25M59.80 505.37H66.20M62.75 505.98H69.15M65.70 505.89H72.10M68.65 505.33H75.05M71.60 505.51H78.00M74.55 506.24H80.95M77.50 505.95H83.90M80.45 505.85H86.85M83.40 506.05H89.80M86.35 506.21H92.75M89.30 506.07H95.70M92.25 505.63H98.65M95.20 506.40H101.60M98.15 505.81H104.55M101.10 505.94H107.50M104.05 506.40H110.45M107.00 506.06H113.40M109.95 505.74H116.35M112.90 505.86H119.30M115.85 506.35H122.25M118.80 505.34H125.20M121.75 505.55H128.15M124.70 505.35H131.10M127.65 506.31H134.05M130.60 506.13H137.00M133.55 506.38H139.95M136.50 505.56H142.90M139.45 506.12H145.85M142.40 506.28H148.80M145.35 505.96H151.75M148.30 505.42H154.70M151.25 505.52H157.65M154.20 506.14H160.60M157.15 506.26H163.55M160.10 505.41H166.50M163.05 505.79H169.45M166.00 337.96H172.40M168.95 339.69H175.35M171.90 339.81H178.30M174.85 337.49H181.25M177.80 338.46H184.20M180.75 339.75H187.15M183.70 336.57H190.10M186.65 337.69H193.05M189.60 337.08H196.00M192.55 339.71H198.95M195.50 336.88H201.90M198.45 339.78H204.85M201.40 336.85H207.80M204.35 338.35H210.75M207.30 338.77H213.70M210.25 337.99H216.65M213.20 336.62H219.60M216.15 339.04H222.55M219.10 339.55H225.50M222.05 338.09H228.45M225.00 339.14H231.40M227.95 339.66H234.35M230.90 339.52H237.30M233.85 339.97H240.25M236.80 339.46H243.20M239.75 339.10H246.15M242.70 339.17H249.10M245.65 337.55H252.05M248.60 339.32H255.00M251.55 338.59H257.95M254.50 339.82H260.90M257.45 339.24H263.85M260.40 340.50H266.80M263.35 339.69H269.75M266.30 340.60H272.70M269.25 338.01H275.65M272.20 338.72H278.60M275.15 340.09H281.55M278.10 339.09H284.50M281.05 337.45H287.45M284.00 340.54H290.40M286.95 337.96H293.35M289.90 339.43H296.30M292.85 339.25H299.25M295.80 338.04H302.20M298.75 339.71H305.15M301.70 339.34H308.10M304.65 338.72H311.05M307.60 482.08H314.00M310.55 503.60H316.95M313.50 503.06H319.90M316.45 503.20H322.85M319.40 503.27H325.80M322.35 503.53H328.75M325.30 503.59H331.70M328.25 503.91H334.65M331.20 503.83H337.60M334.15 503.90H340.55M337.10 503.16H343.50M340.05 503.69H346.45M343.00 503.79H349.40" stroke="#616161" stroke-width="1.3" fill="none"/>
<path d="M51.20 503.82 L54.15 503.00 L57.10 502.91 L60.05 503.73 L63.00 502.93 L65.95 503.54 L68.90 503.44 L71.85 502.88 L74.80 503.06 L77.75 503.80 L80.70 503.50 L83.65 503.41 L86.60 503.60 L89.55 503.76 L92.50 503.62 L95.45 503.18 L98.40 503.95 L101.35 503.36 L104.30 503.49 L107.25 503.95 L110.20 503.61 L113.15 503.29 L116.10 503.41 L119.05 503.90 L122.00 502.89 L124.95 503.11 L127.90 502.90 L130.85 503.86 L133.80 503.68 L136.75 503.93 L139.70 503.12 L142.65 503.68 L145.60 503.83 L148.55 503.51 L151.50 502.97 L154.45 503.07 L157.40 503.69 L160.35 503.81 L163.30 502.96 L166.25 503.35 L169.20 391.82 L172.15 381.31 L175.10 379.38 L178.05 375.03 L181.00 373.95 L183.95 375.25 L186.90 372.07 L189.85 373.19 L192.80 372.57 L195.75 375.21 L198.70 372.37 L201.65 375.27 L204.60 372.35 L207.55 373.85 L210.50 374.27 L213.45 373.49 L216.40 372.11 L219.35 374.53 L222.30 375.04 L225.25 373.58 L228.20 374.64 L231.15 375.16 L234.10 375.01 L237.05 375.47 L240.00 374.96 L242.95 374.60 L245.90 374.67 L248.85 373.04 L251.80 374.81 L254.75 374.09 L257.70 375.32 L260.65 374.74 L263.60 375.99 L266.55 375.19 L269.50 376.09 L272.45 373.50 L275.40 374.22 L278.35 375.59 L281.30 374.59 L284.25 372.95 L287.20 376.03 L290.15 373.46 L293.10 374.93 L296.05 374.74 L299.00 373.54 L301.95 375.21 L304.90 374.83 L307.85 374.21 L310.80 495.55 L313.75 505.43 L316.70 504.89 L319.65 505.03 L322.60 505.11 L325.55 505.36 L328.50 505.43 L331.45 505.75 L334.40 505.67 L337.35 505.73 L340.30 504.99 L343.25 505.53 L346.20 505.63" stroke="#616161" stroke-width="1.6" fill="none" stroke-linejoin="round"/>
<path d="M51.20 502.23V501.74M54.15 501.72V501.23M57.10 501.69V501.20M60.05 501.81V501.32M63.00 502.06V501.57M65.95 502.07V501.58M68.90 502.03V501.54M71.85 501.91V501.42M74.80 502.10V501.61M77.75 501.90V501.41M80.70 502.01V501.52M83.65 501.54V501.05M86.60 501.52V501.03M89.55 500.46V499.60M92.50 499.31V498.08M95.45 498.83V497.61M98.40 499.27V498.04M101.35 499.23V498.01M104.30 501.92V501.43M107.25 501.70V501.20M110.20 501.66V501.16M113.15 501.67V501.17M116.10 501.90V501.39M119.05 501.73V501.21M122.00 502.09V501.57M124.95 501.95V501.42M127.90 502.09V501.56M130.85 501.92V501.37M133.80 502.18V501.63M136.75 502.22V501.67M139.70 502.07V501.51M142.65 502.14V501.58M145.60 501.94V501.37M148.55 502.01V501.43M151.50 501.89V501.31M154.45 501.98V501.39M157.40 501.97V501.38M160.35 501.89V501.29M163.30 502.24V501.64M166.25 502.31V501.70M169.20 440.68V422.32M172.15 434.92V418.52M175.10 433.79V417.44M178.05 434.10V417.81M181.00 435.56V419.33M183.95 433.95V417.78M186.90 433.96V417.85M189.85 434.68V418.62M192.80 434.58V418.58M195.75 434.54V418.60M198.70 436.16V420.28M201.65 435.45V419.62M204.60 435.62V419.86M207.55 435.03V419.33M210.50 435.23V419.59M213.45 435.32V419.73M216.40 435.99V420.46M219.35 435.44V419.97M222.30 436.04V420.63M225.25 436.15V420.80M228.20 437.31V422.01M231.15 437.86V422.58M234.10 437.75V422.50M237.05 437.36V422.13M240.00 438.04V422.83M242.95 436.54V421.36M245.90 437.27V422.10M248.85 437.23V422.09M251.80 437.34V422.23M254.75 437.34V422.24M257.70 437.87V422.80M260.65 439.06V424.01M263.60 437.42V422.39M266.55 437.64V422.64M269.50 438.30V423.31M272.45 438.34V423.38M275.40 438.18V423.24M278.35 439.60V424.68M281.30 438.23V423.34M284.25 439.42V424.55M287.20 439.92V425.07M290.15 439.61V424.79M293.10 438.70V423.90M296.05 439.97V425.19M299.00 438.91V424.15M301.95 438.50V423.77M304.90 439.68V424.97M307.85 440.03V425.35M310.80 458.15V445.91M313.75 467.81V445.77M316.70 470.20V449.39M319.65 486.21V482.54M322.60 501.74V501.13M325.55 502.16V501.55M328.50 502.16V501.55M331.45 502.13V501.52M334.40 501.86V501.24M337.35 502.19V501.58M340.30 502.06V501.45M343.25 502.48V501.86M346.20 502.49V501.88" stroke="#ea7b2e" stroke-width="1.0" fill="none"/>
<path d="M48.00 501.74H54.40M50.95 501.23H57.35M53.90 501.20H60.30M56.85 501.32H63.25M59.80 501.57H66.20M62.75 501.58H69.15M65.70 501.54H72.10M68.65 501.42H75.05M71.60 501.61H78.00M74.55 501.41H80.95M77.50 501.52H83.90M80.45 501.05H86.85M83.40 501.03H89.80M86.35 499.60H92.75M89.30 498.08H95.70M92.25 497.61H98.65M95.20 498.04H101.60M98.15 498.01H104.55M101.10 501.43H107.50M104.05 501.20H110.45M107.00 501.16H113.40M109.95 501.17H116.35M112.90 501.39H119.30M115.85 501.21H122.25M118.80 501.57H125.20M121.75 501.42H128.15M124.70 501.56H131.10M127.65 501.37H134.05M130.60 501.63H137.00M133.55 501.67H139.95M136.50 501.51H142.90M139.45 501.58H145.85M142.40 501.37H148.80M145.35 501.43H151.75M148.30 501.31H154.70M151.25 501.39H157.65M154.20 501.38H160.60M157.15 501.29H163.55M160.10 501.64H166.50M163.05 501.70H169.45M166.00 422.32H172.40M168.95 418.52H175.35M171.90 417.44H178.30M174.85 417.81H181.25M177.80 419.33H184.20M180.75 417.78H187.15M183.70 417.85H190.10M186.65 418.62H193.05M189.60 418.58H196.00M192.55 418.60H198.95M195.50 420.28H201.90M198.45 419.62H204.85M201.40 419.86H207.80M204.35 419.33H210.75M207.30 419.59H213.70M210.25 419.73H216.65M213.20 420.46H219.60M216.15 419.97H222.55M219.10 420.63H225.50M222.05 420.80H228.45M225.00 422.01H231.40M227.95 422.58H234.35M230.90 422.50H237.30M233.85 422.13H240.25M236.80 422.83H243.20M239.75 421.36H246.15M242.70 422.10H249.10M245.65 422.09H252.05M248.60 422.23H255.00M251.55 422.24H257.95M254.50 422.80H260.90M257.45 424.01H263.85M260.40 422.39H266.80M263.35 422.64H269.75M266.30 423.31H272.70M269.25 423.38H275.65M272.20 423.24H278.60M275.15 424.68H281.55M278.10 423.34H284.50M281.05 424.55H287.45M284.00 425.07H290.40M286.95 424.79H293.35M289.90 423.90H296.30M292.85 425.19H299.25M295.80 424.15H302.20M298.75 423.77H305.15M301.70 424.97H308.10M304.65 425.35H311.05M307.60 445.91H314.00M310.55 445.77H316.95M313.50 449.39H319.90M316.45 482.54H322.85M319.40 501.13H325.80M322.35 501.55H328.75M325.30 501.55H331.70M328.25 501.52H334.65M331.20 501.24H337.60M334.15 501.58H340.55M337.10 501.45H343.50M340.05 501.86H346.45M343.00 501.88H349.40" stroke="#e8731c" stroke-width="1.3" fill="none"/>
<path d="M51.20 502.23 L54.15 501.72 L57.10 501.69 L60.05 501.81 L63.00 502.06 L65.95 502.07 L68.90 502.03 L71.85 501.91 L74.80 502.10 L77.75 501.90 L80.70 502.01 L83.65 501.54 L86.60 501.52 L89.55 500.46 L92.50 499.31 L95.45 498.83 L98.40 499.27 L101.35 499.23 L104.30 501.92 L107.25 501.70 L110.20 501.66 L113.15 501.67 L116.10 501.90 L119.05 501.73 L122.00 502.09 L124.95 501.95 L127.90 502.09 L130.85 501.92 L133.80 502.18 L136.75 502.22 L139.70 502.07 L142.65 502.14 L145.60 501.94 L148.55 502.01 L151.50 501.89 L154.45 501.98 L157.40 501.97 L160.35 501.89 L163.30 502.24 L166.25 502.31 L169.20 440.68 L172.15 434.92 L175.10 433.79 L178.05 434.10 L181.00 435.56 L183.95 433.95 L186.90 433.96 L189.85 434.68 L192.80 434.58 L195.75 434.54 L198.70 436.16 L201.65 435.45 L204.60 435.62 L207.55 435.03 L210.50 435.23 L213.45 435.32 L216.40 435.99 L219.35 435.44 L222.30 436.04 L225.25 436.15 L228.20 437.31 L231.15 437.86 L234.10 437.75 L237.05 437.36 L240.00 438.04 L242.95 436.54 L245.90 437.27 L248.85 437.23 L251.80 437.34 L254.75 437.34 L257.70 437.87 L260.65 439.06 L263.60 437.42 L266.55 437.64 L269.50 438.30 L272.45 438.34 L275.40 438.18 L278.35 439.60 L281.30 438.23 L284.25 439.42 L287.20 439.92 L290.15 439.61 L293.10 438.70 L296.05 439.97 L299.00 438.91 L301.95 438.50 L304.90 439.68 L307.85 440.03 L310.80 458.15 L313.75 467.81 L316.70 470.20 L319.65 486.21 L322.60 501.74 L325.55 502.16 L328.50 502.16 L331.45 502.13 L334.40 501.86 L337.35 502.19 L340.30 502.06 L343.25 502.48 L346.20 502.49" stroke="#e8731c" stroke-width="1.6" fill="none" stroke-linejoin="round"/>
<path d="M51.20 503.09V502.72M54.15 502.82V502.45M57.10 502.81V502.44M60.05 502.82V502.45M63.00 503.07V502.71M65.95 502.92V502.56M68.90 502.96V502.59M71.85 502.96V502.59M74.80 503.19V502.82M77.75 502.67V502.31M80.70 503.13V502.77M83.65 502.62V502.25M86.60 502.65V502.28M89.55 503.25V502.89M92.50 502.96V502.59M95.45 502.72V502.36M98.40 502.62V502.26M101.35 502.97V502.60M104.30 503.09V502.72M107.25 503.13V502.76M110.20 502.64V502.27M113.15 503.13V502.76M116.10 502.88V502.51M119.05 503.17V502.80M122.00 502.92V502.55M124.95 502.64V502.27M127.90 503.18V502.81M130.85 502.72V502.36M133.80 502.93V502.56M136.75 502.68V502.31M139.70 502.80V502.43M142.65 503.11V502.74M145.60 502.67V502.30M148.55 502.94V502.58M151.50 498.84V491.50M154.45 502.53V501.30M157.40 502.21V500.98M160.35 502.23V501.01M163.30 502.33V501.11M166.25 502.44V501.21M169.20 379.90V345.63M172.15 369.19V345.93M175.10 368.03V347.23M178.05 370.93V350.86M181.00 370.34V351.00M183.95 371.19V352.59M186.90 373.83V355.96M189.85 373.11V355.97M192.80 374.90V357.76M195.75 375.80V358.66M198.70 378.47V361.33M201.65 379.61V362.47M204.60 380.88V363.74M207.55 380.86V363.73M210.50 383.09V365.95M213.45 384.91V367.77M216.40 386.08V368.94M219.35 387.22V370.31M222.30 388.53V371.83M225.25 389.22V372.74M228.20 388.42V372.16M231.15 390.44V374.39M234.10 389.81V373.99M237.05 392.13V376.53M240.00 392.91V377.52M242.95 393.17V378.01M245.90 394.69V379.74M248.85 395.09V380.36M251.80 394.68V379.45M254.75 395.72V379.81M257.70 396.77V380.17M260.65 397.95V380.83M263.60 397.73V380.69M266.55 398.07V381.12M269.50 399.34V382.46M272.45 399.37V382.57M275.40 401.25V384.53M278.35 400.14V383.51M281.30 401.17V384.61M284.25 400.90V384.43M287.20 401.55V385.15M290.15 402.74V386.42M293.10 403.66V387.43M296.05 402.13V385.98M299.00 404.30V388.22M301.95 403.94V387.95M304.90 404.62V388.71M307.85 404.73V388.81M310.80 483.68V476.34M313.75 501.27V500.66M316.70 501.87V501.26M319.65 501.73V501.12M322.60 501.72V497.44M325.55 501.55V497.27M328.50 501.66V497.37M331.45 501.81V497.52M334.40 501.81V497.53M337.35 501.78V497.50M340.30 501.32V497.04M343.25 501.83V501.22M346.20 502.39V501.77" stroke="#2196b5" stroke-width="1.0" fill="none"/>
<path d="M48.00 502.72H54.40M50.95 502.45H57.35M53.90 502.44H60.30M56.85 502.45H63.25M59.80 502.71H66.20M62.75 502.56H69.15M65.70 502.59H72.10M68.65 502.59H75.05M71.60 502.82H78.00M74.55 502.31H80.95M77.50 502.77H83.90M80.45 502.25H86.85M83.40 502.28H89.80M86.35 502.89H92.75M89.30 502.59H95.70M92.25 502.36H98.65M95.20 502.26H101.60M98.15 502.60H104.55M101.10 502.72H107.50M104.05 502.76H110.45M107.00 502.27H113.40M109.95 502.76H116.35M112.90 502.51H119.30M115.85 502.80H122.25M118.80 502.55H125.20M121.75 502.27H128.15M124.70 502.81H131.10M127.65 502.36H134.05M130.60 502.56H137.00M133.55 502.31H139.95M136.50 502.43H142.90M139.45 502.74H145.85M142.40 502.30H148.80M145.35 502.58H151.75M148.30 491.50H154.70M151.25 501.30H157.65M154.20 500.98H160.60M157.15 501.01H163.55M160.10 501.11H166.50M163.05 501.21H169.45M166.00 345.63H172.40M168.95 345.93H175.35M171.90 347.23H178.30M174.85 350.86H181.25M177.80 351.00H184.20M180.75 352.59H187.15M183.70 355.96H190.10M186.65 355.97H193.05M189.60 357.76H196.00M192.55 358.66H198.95M195.50 361.33H201.90M198.45 362.47H204.85M201.40 363.74H207.80M204.35 363.73H210.75M207.30 365.95H213.70M210.25 367.77H216.65M213.20 368.94H219.60M216.15 370.31H222.55M219.10 371.83H225.50M222.05 372.74H228.45M225.00 372.16H231.40M227.95 374.39H234.35M230.90 373.99H237.30M233.85 376.53H240.25M236.80 377.52H243.20M239.75 378.01H246.15M242.70 379.74H249.10M245.65 380.36H252.05M248.60 379.45H255.00M251.55 379.81H257.95M254.50 380.17H260.90M257.45 380.83H263.85M260.40 380.69H266.80M263.35 381.12H269.75M266.30 382.46H272.70M269.25 382.57H275.65M272.20 384.53H278.60M275.15 383.51H281.55M278.10 384.61H284.50M281.05 384.43H287.45M284.00 385.15H290.40M286.95 386.42H293.35M289.90 387.43H296.30M292.85 385.98H299.25M295.80 388.22H302.20M298.75 387.95H305.15M301.70 388.71H308.10M304.65 388.81H311.05M307.60 476.34H314.00M310.55 500.66H316.95M313.50 501.26H319.90M316.45 501.12H322.85M319.40 497.44H325.80M322.35 497.27H328.75M325.30 497.37H331.70M328.25 497.52H334.65M331.20 497.53H337.60M334.15 497.50H340.55M337.10 497.04H343.50M340.05 501.22H346.45M343.00 501.77H349.40" stroke="#1992b3" stroke-width="1.3" fill="none"/>
<path d="M51.20 503.09 L54.15 502.82 L57.10 502.81 L60.05 502.82 L63.00 503.07 L65.95 502.92 L68.90 502.96 L71.85 502.96 L74.80 503.19 L77.75 502.67 L80.70 503.13 L83.65 502.62 L86.60 502.65 L89.55 503.25 L92.50 502.96 L95.45 502.72 L98.40 502.62 L101.35 502.97 L104.30 503.09 L107.25 503.13 L110.20 502.64 L113.15 503.13 L116.10 502.88 L119.05 503.17 L122.00 502.92 L124.95 502.64 L127.90 503.18 L130.85 502.72 L133.80 502.93 L136.75 502.68 L139.70 502.80 L142.65 503.11 L145.60 502.67 L148.55 502.94 L151.50 498.84 L154.45 502.53 L157.40 502.21 L160.35 502.23 L163.30 502.33 L166.25 502.44 L169.20 379.90 L172.15 369.19 L175.10 368.03 L178.05 370.93 L181.00 370.34 L183.95 371.19 L186.90 373.83 L189.85 373.11 L192.80 374.90 L195.75 375.80 L198.70 378.47 L201.65 379.61 L204.60 380.88 L207.55 380.86 L210.50 383.09 L213.45 384.91 L216.40 386.08 L219.35 387.22 L222.30 388.53 L225.25 389.22 L228.20 388.42 L231.15 390.44 L234.10 389.81 L237.05 392.13 L240.00 392.91 L242.95 393.17 L245.90 394.69 L248.85 395.09 L251.80 394.68 L254.75 395.72 L257.70 396.77 L260.65 397.95 L263.60 397.73 L266.55 398.07 L269.50 399.34 L272.45 399.37 L275.40 401.25 L278.35 400.14 L281.30 401.17 L284.25 400.90 L287.20 401.55 L290.15 402.74 L293.10 403.66 L296.05 402.13 L299.00 404.30 L301.95 403.94 L304.90 404.62 L307.85 404.73 L310.80 483.68 L313.75 501.27 L316.70 501.87 L319.65 501.73 L322.60 501.72 L325.55 501.55 L328.50 501.66 L331.45 501.81 L334.40 501.81 L337.35 501.78 L340.30 501.32 L343.25 501.83 L346.20 502.39" stroke="#1992b3" stroke-width="1.6" fill="none" stroke-linejoin="round"/>
<path d="M51.20 318.60V515.20H346.20" stroke="#111" stroke-width="1.4" fill="none"/>
<line x1="47.20" y1="502.20" x2="51.20" y2="502.20" stroke="#111" stroke-width="1.5" stroke-linecap="butt"/>
<text x="45.0" y="506.4" font-size="10" font-weight="bold" text-anchor="end" fill="#111" stroke="#111" stroke-width="0.25">0</text>
<line x1="47.20" y1="441.00" x2="51.20" y2="441.00" stroke="#111" stroke-width="1.5" stroke-linecap="butt"/>
<text x="45.0" y="445.2" font-size="10" font-weight="bold" text-anchor="end" fill="#111" stroke="#111" stroke-width="0.25">50</text>
<line x1="47.20" y1="379.80" x2="51.20" y2="379.80" stroke="#111" stroke-width="1.5" stroke-linecap="butt"/>
<text x="45.0" y="384.0" font-size="10" font-weight="bold" text-anchor="end" fill="#111" stroke="#111" stroke-width="0.25">100</text>
<line x1="47.20" y1="318.60" x2="51.20" y2="318.60" stroke="#111" stroke-width="1.5" stroke-linecap="butt"/>
<text x="45.0" y="322.8" font-size="10" font-weight="bold" text-anchor="end" fill="#111" stroke="#111" stroke-width="0.25">150</text>
<line x1="49.00" y1="471.60" x2="51.20" y2="471.60" stroke="#111" stroke-width="1.3" stroke-linecap="butt"/>
<line x1="49.00" y1="410.40" x2="51.20" y2="410.40" stroke="#111" stroke-width="1.3" stroke-linecap="butt"/>
<line x1="49.00" y1="349.20" x2="51.20" y2="349.20" stroke="#111" stroke-width="1.3" stroke-linecap="butt"/>
<line x1="51.20" y1="515.20" x2="51.20" y2="519.70" stroke="#111" stroke-width="1.5" stroke-linecap="butt"/>
<text x="51.2" y="532.5" font-size="10" font-weight="bold" text-anchor="middle" fill="#111" stroke="#111" stroke-width="0.25">0</text>
<line x1="110.20" y1="515.20" x2="110.20" y2="519.70" stroke="#111" stroke-width="1.5" stroke-linecap="butt"/>
<text x="110.2" y="532.5" font-size="10" font-weight="bold" text-anchor="middle" fill="#111" stroke="#111" stroke-width="0.25">50</text>
<line x1="169.20" y1="515.20" x2="169.20" y2="519.70" stroke="#111" stroke-width="1.5" stroke-linecap="butt"/>
<text x="169.2" y="532.5" font-size="10" font-weight="bold" text-anchor="middle" fill="#111" stroke="#111" stroke-width="0.25">100</text>
<line x1="228.20" y1="515.20" x2="228.20" y2="519.70" stroke="#111" stroke-width="1.5" stroke-linecap="butt"/>
<text x="228.2" y="532.5" font-size="10" font-weight="bold" text-anchor="middle" fill="#111" stroke="#111" stroke-width="0.25">150</text>
<line x1="287.20" y1="515.20" x2="287.20" y2="519.70" stroke="#111" stroke-width="1.5" stroke-linecap="butt"/>
<text x="287.2" y="532.5" font-size="10" font-weight="bold" text-anchor="middle" fill="#111" stroke="#111" stroke-width="0.25">200</text>
<line x1="346.20" y1="515.20" x2="346.20" y2="519.70" stroke="#111" stroke-width="1.5" stroke-linecap="butt"/>
<text x="346.2" y="532.5" font-size="10" font-weight="bold" text-anchor="middle" fill="#111" stroke="#111" stroke-width="0.25">250</text>
<line x1="80.70" y1="515.20" x2="80.70" y2="517.70" stroke="#111" stroke-width="1.3" stroke-linecap="butt"/>
<line x1="139.70" y1="515.20" x2="139.70" y2="517.70" stroke="#111" stroke-width="1.3" stroke-linecap="butt"/>
<line x1="198.70" y1="515.20" x2="198.70" y2="517.70" stroke="#111" stroke-width="1.3" stroke-linecap="butt"/>
<line x1="257.70" y1="515.20" x2="257.70" y2="517.70" stroke="#111" stroke-width="1.3" stroke-linecap="butt"/>
<line x1="316.70" y1="515.20" x2="316.70" y2="517.70" stroke="#111" stroke-width="1.3" stroke-linecap="butt"/>
<text x="199.2" y="547.7" font-size="10.5" font-weight="bold" text-anchor="middle" fill="#111" stroke="#111" stroke-width="0.25">Time [s]</text>
<text x="23.0" y="414.9" font-size="11.2" font-weight="bold" text-anchor="middle" fill="#111" stroke="#111" stroke-width="0.25" transform="rotate(-90 23.0 414.9)">CD [pA/pF]</text>
<text x="5.0" y="309.8" font-size="24" font-weight="bold" text-anchor="start" fill="#111" stroke="#111" stroke-width="0.25">C</text>
<text x="75.4" y="427.2" font-size="10.8" font-weight="bold" text-anchor="start" fill="#111" stroke="#111" stroke-width="0.25">p53 KO2</text>
<line x1="58.80" y1="440.60" x2="69.20" y2="440.60" stroke="#616161" stroke-width="1.7" stroke-linecap="butt"/>
<text x="75.4" y="444.7" font-size="11" font-weight="normal" text-anchor="start" fill="#222" stroke="#222" stroke-width="0.15">Control</text>
<line x1="58.80" y1="456.50" x2="69.20" y2="456.50" stroke="#e8731c" stroke-width="1.7" stroke-linecap="butt"/>
<text x="75.4" y="460.6" font-size="11" font-weight="normal" text-anchor="start" fill="#222" stroke="#222" stroke-width="0.15">p53 WT</text>
<line x1="58.80" y1="472.40" x2="69.20" y2="472.40" stroke="#1992b3" stroke-width="1.7" stroke-linecap="butt"/>
<text x="75.4" y="476.5" font-size="11" font-weight="normal" text-anchor="start" fill="#222" stroke="#222" stroke-width="0.15">p53 MUT</text>
<path d="M64.60 390.30 L65.26 390.30 L65.91 390.30 L66.57 390.30 L67.22 390.30 L67.88 390.30 L68.54 390.30 L69.19 390.30 L69.85 390.30 L70.50 390.30 L71.16 390.30 L71.82 390.30 L72.47 390.30 L73.13 390.30 L73.78 390.30 L74.44 390.30 L75.10 390.30 L75.75 390.30 L76.41 390.30 L77.06 390.30 L77.72 390.30 L78.38 390.30 L79.03 390.30 L79.69 390.30 L80.34 390.30 L81.00 390.30 L81.66 390.30 L82.31 390.30 L82.97 390.30 L83.62 390.30 L84.28 390.30 L84.94 390.30 L85.59 390.30 L86.25 390.30 L86.90 390.30 L87.56 390.30 L88.22 390.30 L88.87 390.30 L89.53 390.30 L90.18 390.30 L90.84 390.30 L91.50 390.30 L92.15 390.30 L92.81 390.30 L93.46 390.30 L94.12 390.30 L94.78 390.30 L95.43 390.30 L96.09 390.30 L96.74 390.30 L97.40 390.30 L98.06 390.27 L98.71 390.18 L99.37 390.06 L100.02 389.91 L100.68 389.76 L101.34 389.59 L101.99 389.40 L102.65 389.18 L103.30 388.94 L103.96 388.68 L104.62 388.39 L105.27 388.08 L105.93 387.76 L106.58 387.41 L107.24 387.06 L107.90 386.68 L108.55 386.30 L109.21 385.91 L109.86 385.50 L110.52 385.09 L111.18 384.67 L111.83 384.25 L112.49 383.83 L113.14 383.40 L113.80 382.96 L114.46 382.50 L115.11 382.02 L115.77 381.52 L116.42 381.00 L117.08 380.46 L117.74 379.91 L118.39 379.33 L119.05 378.73 L119.70 378.12 L120.36 377.49 L121.02 376.85 L121.67 376.18 L122.33 375.50 L122.98 374.81 L123.64 374.09 L124.30 373.35 L124.95 372.57 L125.61 371.77 L126.26 370.94 L126.92 370.08 L127.58 369.20 L128.23 368.29 L128.89 367.35 L129.54 366.39 L130.20 365.40 L130.86 364.39 L131.51 363.35 L132.17 362.28 L132.82 361.19 L133.48 360.06 L134.14 358.88 L134.79 357.65 L135.45 356.38 L136.10 355.07 L136.76 353.72 L137.42 352.33 L138.07 350.90 L138.73 349.44 L139.38 347.95 L140.04 346.42 L140.70 344.86 L141.35 343.28" stroke="#5a5a5a" stroke-width="1.0" fill="none" stroke-linejoin="round"/>
<path d="M64.60 390.30 L65.26 390.30 L65.91 390.30 L66.57 390.30 L67.22 390.30 L67.88 390.30 L68.54 390.30 L69.19 390.30 L69.85 390.30 L70.50 390.30 L71.16 390.30 L71.82 390.30 L72.47 390.30 L73.13 390.30 L73.78 390.30 L74.44 390.30 L75.10 390.30 L75.75 390.30 L76.41 390.30 L77.06 390.30 L77.72 390.30 L78.38 390.30 L79.03 390.30 L79.69 390.30 L80.34 390.30 L81.00 390.30 L81.66 390.30 L82.31 390.30 L82.97 390.30 L83.62 390.30 L84.28 390.30 L84.94 390.30 L85.59 390.30 L86.25 390.30 L86.90 390.30 L87.56 390.30 L88.22 390.30 L88.87 390.30 L89.53 390.30 L90.18 390.30 L90.84 390.30 L91.50 390.30 L92.15 390.30 L92.81 390.30 L93.46 390.30 L94.12 390.30 L94.78 390.30 L95.43 390.30 L96.09 390.30 L96.74 390.30 L97.40 390.30 L98.06 390.29 L98.71 390.26 L99.37 390.22 L100.02 390.17 L100.68 390.12 L101.34 390.06 L101.99 389.98 L102.65 389.89 L103.30 389.79 L103.96 389.67 L104.62 389.55 L105.27 389.41 L105.93 389.25 L106.58 389.09 L107.24 388.92 L107.90 388.74 L108.55 388.55 L109.21 388.35 L109.86 388.15 L110.52 387.93 L111.18 387.72 L111.83 387.49 L112.49 387.26 L113.14 387.03 L113.80 386.78 L114.46 386.50 L115.11 386.19 L115.77 385.85 L116.42 385.49 L117.08 385.11 L117.74 384.71 L118.39 384.28 L119.05 383.85 L119.70 383.40 L120.36 382.93 L121.02 382.46 L121.67 381.98 L122.33 381.49 L122.98 380.99 L123.64 380.48 L124.30 379.94 L124.95 379.36 L125.61 378.77 L126.26 378.15 L126.92 377.51 L127.58 376.86 L128.23 376.19 L128.89 375.50 L129.54 374.81 L130.20 374.11 L130.86 373.40 L131.51 372.69 L132.17 371.97 L132.82 371.26 L133.48 370.54 L134.14 369.81 L134.79 369.06 L135.45 368.31 L136.10 367.54 L136.76 366.76 L137.42 365.97 L138.07 365.18 L138.73 364.37 L139.38 363.55 L140.04 362.72 L140.70 361.88 L141.35 361.03" stroke="#e8731c" stroke-width="1.3" fill="none" stroke-linejoin="round"/>
<path d="M64.60 390.30 L65.26 390.30 L65.91 390.30 L66.57 390.30 L67.22 390.30 L67.88 390.30 L68.54 390.30 L69.19 390.30 L69.85 390.30 L70.50 390.30 L71.16 390.30 L71.82 390.30 L72.47 390.30 L73.13 390.30 L73.78 390.30 L74.44 390.30 L75.10 390.30 L75.75 390.30 L76.41 390.30 L77.06 390.30 L77.72 390.30 L78.38 390.30 L79.03 390.30 L79.69 390.30 L80.34 390.30 L81.00 390.30 L81.66 390.30 L82.31 390.30 L82.97 390.30 L83.62 390.30 L84.28 390.30 L84.94 390.30 L85.59 390.30 L86.25 390.30 L86.90 390.30 L87.56 390.30 L88.22 390.30 L88.87 390.30 L89.53 390.30 L90.18 390.30 L90.84 390.30 L91.50 390.30 L92.15 390.30 L92.81 390.30 L93.46 390.30 L94.12 390.30 L94.78 390.30 L95.43 390.30 L96.09 390.30 L96.74 390.30 L97.40 390.30 L98.06 390.28 L98.71 390.22 L99.37 390.14 L100.02 390.04 L100.68 389.94 L101.34 389.83 L101.99 389.71 L102.65 389.58 L103.30 389.44 L103.96 389.28 L104.62 389.11 L105.27 388.93 L105.93 388.73 L106.58 388.53 L107.24 388.31 L107.90 388.08 L108.55 387.85 L109.21 387.60 L109.86 387.35 L110.52 387.08 L111.18 386.81 L111.83 386.53 L112.49 386.24 L113.14 385.94 L113.80 385.62 L114.46 385.26 L115.11 384.87 L115.77 384.44 L116.42 383.98 L117.08 383.50 L117.74 383.00 L118.39 382.47 L119.05 381.93 L119.70 381.37 L120.36 380.80 L121.02 380.22 L121.67 379.63 L122.33 379.04 L122.98 378.45 L123.64 377.84 L124.30 377.21 L124.95 376.55 L125.61 375.88 L126.26 375.18 L126.92 374.47 L127.58 373.74 L128.23 372.99 L128.89 372.23 L129.54 371.46 L130.20 370.67 L130.86 369.87 L131.51 369.07 L132.17 368.25 L132.82 367.43 L133.48 366.59 L134.14 365.73 L134.79 364.85 L135.45 363.96 L136.10 363.04 L136.76 362.12 L137.42 361.17 L138.07 360.21 L138.73 359.24 L139.38 358.25 L140.04 357.24 L140.70 356.22 L141.35 355.19" stroke="#1992b3" stroke-width="1.3" fill="none" stroke-linejoin="round"/>
<line x1="64.60" y1="390.30" x2="146.60" y2="390.30" stroke="#555" stroke-width="0.9" stroke-linecap="butt"/>
<line x1="97.40" y1="317.90" x2="97.40" y2="398.30" stroke="#555" stroke-width="0.9" stroke-linecap="butt"/>
<line x1="95.40" y1="372.20" x2="97.40" y2="372.20" stroke="#555" stroke-width="0.9" stroke-linecap="butt"/>
<text x="94.9" y="374.5" font-size="6.6" font-weight="bold" text-anchor="end" fill="#222" stroke="#222" stroke-width="0.25">1</text>
<line x1="95.40" y1="354.10" x2="97.40" y2="354.10" stroke="#555" stroke-width="0.9" stroke-linecap="butt"/>
<text x="94.9" y="356.4" font-size="6.6" font-weight="bold" text-anchor="end" fill="#222" stroke="#222" stroke-width="0.25">2</text>
<line x1="95.40" y1="336.00" x2="97.40" y2="336.00" stroke="#555" stroke-width="0.9" stroke-linecap="butt"/>
<text x="94.9" y="338.3" font-size="6.6" font-weight="bold" text-anchor="end" fill="#222" stroke="#222" stroke-width="0.25">3</text>
<line x1="95.40" y1="317.90" x2="97.40" y2="317.90" stroke="#555" stroke-width="0.9" stroke-linecap="butt"/>
<text x="94.9" y="320.2" font-size="6.6" font-weight="bold" text-anchor="end" fill="#222" stroke="#222" stroke-width="0.25">4</text>
<line x1="64.60" y1="390.30" x2="64.60" y2="392.30" stroke="#555" stroke-width="0.9" stroke-linecap="butt"/>
<text x="64.6" y="399.3" font-size="6.6" font-weight="bold" text-anchor="middle" fill="#222" stroke="#222" stroke-width="0.25">-100</text>
<line x1="81.00" y1="390.30" x2="81.00" y2="392.30" stroke="#555" stroke-width="0.9" stroke-linecap="butt"/>
<text x="81.0" y="399.3" font-size="6.6" font-weight="bold" text-anchor="middle" fill="#222" stroke="#222" stroke-width="0.25">-50</text>
<line x1="113.80" y1="390.30" x2="113.80" y2="392.30" stroke="#555" stroke-width="0.9" stroke-linecap="butt"/>
<text x="113.8" y="399.3" font-size="6.6" font-weight="bold" text-anchor="middle" fill="#222" stroke="#222" stroke-width="0.25">50</text>
<line x1="130.20" y1="390.30" x2="130.20" y2="392.30" stroke="#555" stroke-width="0.9" stroke-linecap="butt"/>
<text x="130.2" y="399.3" font-size="6.6" font-weight="bold" text-anchor="middle" fill="#222" stroke="#222" stroke-width="0.25">100</text>
<line x1="146.60" y1="390.30" x2="146.60" y2="392.30" stroke="#555" stroke-width="0.9" stroke-linecap="butt"/>
<text x="146.6" y="399.3" font-size="6.6" font-weight="bold" text-anchor="middle" fill="#222" stroke="#222" stroke-width="0.25">150</text>
<text x="102.3" y="326.9" font-size="6.6" font-weight="bold" text-anchor="start" fill="#222" stroke="#222" stroke-width="0.25">nA</text>
<text x="66.6" y="386.7" font-size="6.6" font-weight="bold" text-anchor="start" fill="#222" stroke="#222" stroke-width="0.25">mV</text>
<line x1="166.90" y1="586.30" x2="308.50" y2="586.30" stroke="#111" stroke-width="1.6" stroke-linecap="butt"/>
<text x="236.8" y="579.1" font-size="11.6" font-weight="normal" text-anchor="middle" fill="#111" stroke="#111" stroke-width="0.15">pH 4.5</text>
<path d="M51.20 771.84V770.86M54.15 772.18V771.20M57.10 772.99V772.01M60.05 773.62V772.65M63.00 772.97V771.99M65.95 772.44V771.46M68.90 772.24V771.26M71.85 772.41V771.43M74.80 772.28V771.31M77.75 772.26V771.28M80.70 772.01V771.03M83.65 771.77V770.79M86.60 771.85V770.87M89.55 772.08V771.11M92.50 772.07V771.09M95.45 771.97V771.00M98.40 772.07V771.09M101.35 772.08V771.10M104.30 772.27V771.29M107.25 772.10V771.12M110.20 771.58V770.60M113.15 772.18V771.20M116.10 771.89V770.91M119.05 771.67V770.61M122.00 771.38V770.24M124.95 771.73V770.51M127.90 770.65V769.43M130.85 769.63V768.40M133.80 775.15V773.92M136.75 771.93V770.71M139.70 771.84V770.62M142.65 772.21V770.98M145.60 772.47V771.25M148.55 771.88V770.65M151.50 770.64V769.42M154.45 769.53V768.31M157.40 771.60V770.38M160.35 772.03V770.93M163.30 772.07V771.09M166.25 770.67V769.44M169.20 696.94V682.25M172.15 687.98V672.31M175.10 688.76V673.10M178.05 689.21V673.57M181.00 689.45V673.83M183.95 691.75V676.15M186.90 692.62V677.03M189.85 693.03V677.46M192.80 692.66V677.10M195.75 692.80V677.26M198.70 692.69V677.16M201.65 693.75V678.24M204.60 694.46V678.97M207.55 694.70V679.22M210.50 695.98V680.52M213.45 696.28V680.83M216.40 698.06V682.63M219.35 696.76V681.35M222.30 698.64V683.24M225.25 697.48V682.10M228.20 698.68V683.32M231.15 700.04V684.70M234.10 701.00V685.67M237.05 701.22V685.91M240.00 700.81V685.51M242.95 700.75V685.42M245.90 702.28V686.92M248.85 702.47V687.08M251.80 701.45V686.03M254.75 701.40V685.95M257.70 701.97V686.49M260.65 702.46V686.95M263.60 701.63V686.09M266.55 703.17V687.59M269.50 702.55V686.94M272.45 702.25V686.61M275.40 701.12V685.45M278.35 701.98V686.29M281.30 701.49V685.76M284.25 702.58V686.82M287.20 703.26V687.47M290.15 703.32V687.50M293.10 701.67V685.82M296.05 702.39V686.51M299.00 703.45V687.54M301.95 701.89V688.24M304.90 698.46V687.07M307.85 700.10V686.64M310.80 745.88V738.53M313.75 755.79V748.45M316.70 753.39V746.05M319.65 751.10V743.76M322.60 749.52V742.17M325.55 747.56V740.22M328.50 745.24V737.90M331.45 743.08V735.74M334.40 740.79V733.45M337.35 741.15V736.25" stroke="#ea7b2e" stroke-width="1.0" fill="none"/>
<path d="M48.00 770.86H54.40M50.95 771.20H57.35M53.90 772.01H60.30M56.85 772.65H63.25M59.80 771.99H66.20M62.75 771.46H69.15M65.70 771.26H72.10M68.65 771.43H75.05M71.60 771.31H78.00M74.55 771.28H80.95M77.50 771.03H83.90M80.45 770.79H86.85M83.40 770.87H89.80M86.35 771.11H92.75M89.30 771.09H95.70M92.25 771.00H98.65M95.20 771.09H101.60M98.15 771.10H104.55M101.10 771.29H107.50M104.05 771.12H110.45M107.00 770.60H113.40M109.95 771.20H116.35M112.90 770.91H119.30M115.85 770.61H122.25M118.80 770.24H125.20M121.75 770.51H128.15M124.70 769.43H131.10M127.65 768.40H134.05M130.60 773.92H137.00M133.55 770.71H139.95M136.50 770.62H142.90M139.45 770.98H145.85M142.40 771.25H148.80M145.35 770.65H151.75M148.30 769.42H154.70M151.25 768.31H157.65M154.20 770.38H160.60M157.15 770.93H163.55M160.10 771.09H166.50M163.05 769.44H169.45M166.00 682.25H172.40M168.95 672.31H175.35M171.90 673.10H178.30M174.85 673.57H181.25M177.80 673.83H184.20M180.75 676.15H187.15M183.70 677.03H190.10M186.65 677.46H193.05M189.60 677.10H196.00M192.55 677.26H198.95M195.50 677.16H201.90M198.45 678.24H204.85M201.40 678.97H207.80M204.35 679.22H210.75M207.30 680.52H213.70M210.25 680.83H216.65M213.20 682.63H219.60M216.15 681.35H222.55M219.10 683.24H225.50M222.05 682.10H228.45M225.00 683.32H231.40M227.95 684.70H234.35M230.90 685.67H237.30M233.85 685.91H240.25M236.80 685.51H243.20M239.75 685.42H246.15M242.70 686.92H249.10M245.65 687.08H252.05M248.60 686.03H255.00M251.55 685.95H257.95M254.50 686.49H260.90M257.45 686.95H263.85M260.40 686.09H266.80M263.35 687.59H269.75M266.30 686.94H272.70M269.25 686.61H275.65M272.20 685.45H278.60M275.15 686.29H281.55M278.10 685.76H284.50M281.05 686.82H287.45M284.00 687.47H290.40M286.95 687.50H293.35M289.90 685.82H296.30M292.85 686.51H299.25M295.80 687.54H302.20M298.75 688.24H305.15M301.70 687.07H308.10M304.65 686.64H311.05M307.60 738.53H314.00M310.55 748.45H316.95M313.50 746.05H319.90M316.45 743.76H322.85M319.40 742.17H325.80M322.35 740.22H328.75M325.30 737.90H331.70M328.25 735.74H334.65M331.20 733.45H337.60M334.15 736.25H340.55" stroke="#e8731c" stroke-width="1.3" fill="none"/>
<path d="M51.20 771.84 L54.15 772.18 L57.10 772.99 L60.05 773.62 L63.00 772.97 L65.95 772.44 L68.90 772.24 L71.85 772.41 L74.80 772.28 L77.75 772.26 L80.70 772.01 L83.65 771.77 L86.60 771.85 L89.55 772.08 L92.50 772.07 L95.45 771.97 L98.40 772.07 L101.35 772.08 L104.30 772.27 L107.25 772.10 L110.20 771.58 L113.15 772.18 L116.10 771.89 L119.05 771.67 L122.00 771.38 L124.95 771.73 L127.90 770.65 L130.85 769.63 L133.80 775.15 L136.75 771.93 L139.70 771.84 L142.65 772.21 L145.60 772.47 L148.55 771.88 L151.50 770.64 L154.45 769.53 L157.40 771.60 L160.35 772.03 L163.30 772.07 L166.25 770.67 L169.20 696.94 L172.15 687.98 L175.10 688.76 L178.05 689.21 L181.00 689.45 L183.95 691.75 L186.90 692.62 L189.85 693.03 L192.80 692.66 L195.75 692.80 L198.70 692.69 L201.65 693.75 L204.60 694.46 L207.55 694.70 L210.50 695.98 L213.45 696.28 L216.40 698.06 L219.35 696.76 L222.30 698.64 L225.25 697.48 L228.20 698.68 L231.15 700.04 L234.10 701.00 L237.05 701.22 L240.00 700.81 L242.95 700.75 L245.90 702.28 L248.85 702.47 L251.80 701.45 L254.75 701.40 L257.70 701.97 L260.65 702.46 L263.60 701.63 L266.55 703.17 L269.50 702.55 L272.45 702.25 L275.40 701.12 L278.35 701.98 L281.30 701.49 L284.25 702.58 L287.20 703.26 L290.15 703.32 L293.10 701.67 L296.05 702.39 L299.00 703.45 L301.95 701.89 L304.90 698.46 L307.85 700.10 L310.80 745.88 L313.75 755.79 L316.70 753.39 L319.65 751.10 L322.60 749.52 L325.55 747.56 L328.50 745.24 L331.45 743.08 L334.40 740.79 L337.35 741.15" stroke="#e8731c" stroke-width="1.6" fill="none" stroke-linejoin="round"/>
<path d="M77.75 768.27V763.13M80.70 768.61V763.47M83.65 768.13V762.99M86.60 768.47V763.33M89.55 768.69V763.55M92.50 768.67V763.53M95.45 768.52V763.38M98.40 768.34V765.28M101.35 767.83V765.07M104.30 768.11V765.66M107.25 767.62V765.48M110.20 767.45V765.61M113.15 766.28V755.26M116.10 766.28V755.87M119.05 765.73V755.94M122.00 763.28V748.59M124.95 759.36V748.35M127.90 760.22V747.98M130.85 764.76V758.64M133.80 764.62V759.11M136.75 764.35V758.92M139.70 764.32V758.97M142.65 764.69V759.41M145.60 764.72V759.51M148.55 764.09V758.96M151.50 764.15V759.10M154.45 764.60V759.63M157.40 764.06V759.16M160.35 763.66V759.37M163.30 763.05V759.38M166.25 739.82V730.03M169.20 672.62V645.69M172.15 661.36V640.55M175.10 658.60V640.24M178.05 660.69V642.33M181.00 661.47V643.11M183.95 666.57V649.43M186.90 667.57V651.66M189.85 671.46V655.55M192.80 673.14V657.23M195.75 673.96V657.82M198.70 675.88V659.35M201.65 676.86V660.32M204.60 677.83V661.28M207.55 676.83V660.25M210.50 677.11V660.52M213.45 675.80V659.20M216.40 677.61V660.99M219.35 677.23V660.59M222.30 675.96V659.30M225.25 678.11V661.44M228.20 677.21V660.52M231.15 676.26V659.56M234.10 676.41V659.69M237.05 678.22V661.48M240.00 678.27V661.51M242.95 678.23V661.46M245.90 676.16V659.38M248.85 677.82V661.02M251.80 676.65V659.83M254.75 676.32V659.48M257.70 677.72V660.86M260.65 677.92V661.04M263.60 676.27V659.38M266.55 677.14V660.23M269.50 678.04V661.12M272.45 676.96V660.02M275.40 677.97V661.02M278.35 678.11V661.14M281.30 678.81V661.82M284.25 677.00V659.99M287.20 676.64V659.62M290.15 677.36V660.32M293.10 676.64V659.58M296.05 678.92V661.85M299.00 678.44V661.35M301.95 677.88V660.78M304.90 676.74V659.62M307.85 676.78V659.64M310.80 694.50V690.82M313.75 715.40V710.51M316.70 733.63V728.74M319.65 743.38V737.26M322.60 743.47V737.14M325.55 744.42V737.89M328.50 744.37V737.64M331.45 744.83V737.89M334.40 745.17V738.03M337.35 745.62V738.28M340.30 757.98V751.86M343.25 768.59V767.37M346.20 769.21V767.98" stroke="#2196b5" stroke-width="1.0" fill="none"/>
<path d="M74.55 763.13H80.95M77.50 763.47H83.90M80.45 762.99H86.85M83.40 763.33H89.80M86.35 763.55H92.75M89.30 763.53H95.70M92.25 763.38H98.65M95.20 765.28H101.60M98.15 765.07H104.55M101.10 765.66H107.50M104.05 765.48H110.45M107.00 765.61H113.40M109.95 755.26H116.35M112.90 755.87H119.30M115.85 755.94H122.25M118.80 748.59H125.20M121.75 748.35H128.15M124.70 747.98H131.10M127.65 758.64H134.05M130.60 759.11H137.00M133.55 758.92H139.95M136.50 758.97H142.90M139.45 759.41H145.85M142.40 759.51H148.80M145.35 758.96H151.75M148.30 759.10H154.70M151.25 759.63H157.65M154.20 759.16H160.60M157.15 759.37H163.55M160.10 759.38H166.50M163.05 730.03H169.45M166.00 645.69H172.40M168.95 640.55H175.35M171.90 640.24H178.30M174.85 642.33H181.25M177.80 643.11H184.20M180.75 649.43H187.15M183.70 651.66H190.10M186.65 655.55H193.05M189.60 657.23H196.00M192.55 657.82H198.95M195.50 659.35H201.90M198.45 660.32H204.85M201.40 661.28H207.80M204.35 660.25H210.75M207.30 660.52H213.70M210.25 659.20H216.65M213.20 660.99H219.60M216.15 660.59H222.55M219.10 659.30H225.50M222.05 661.44H228.45M225.00 660.52H231.40M227.95 659.56H234.35M230.90 659.69H237.30M233.85 661.48H240.25M236.80 661.51H243.20M239.75 661.46H246.15M242.70 659.38H249.10M245.65 661.02H252.05M248.60 659.83H255.00M251.55 659.48H257.95M254.50 660.86H260.90M257.45 661.04H263.85M260.40 659.38H266.80M263.35 660.23H269.75M266.30 661.12H272.70M269.25 660.02H275.65M272.20 661.02H278.60M275.15 661.14H281.55M278.10 661.82H284.50M281.05 659.99H287.45M284.00 659.62H290.40M286.95 660.32H293.35M289.90 659.58H296.30M292.85 661.85H299.25M295.80 661.35H302.20M298.75 660.78H305.15M301.70 659.62H308.10M304.65 659.64H311.05M307.60 690.82H314.00M310.55 710.51H316.95M313.50 728.74H319.90M316.45 737.26H322.85M319.40 737.14H325.80M322.35 737.89H328.75M325.30 737.64H331.70M328.25 737.89H334.65M331.20 738.03H337.60M334.15 738.28H340.55M337.10 751.86H343.50M340.05 767.37H346.45M343.00 767.98H349.40" stroke="#1992b3" stroke-width="1.3" fill="none"/>
<path d="M51.20 769.35 L54.15 769.39 L57.10 769.56 L60.05 769.78 L63.00 769.22 L65.95 769.70 L68.90 769.33 L71.85 769.76 L74.80 769.77 L77.75 768.27 L80.70 768.61 L83.65 768.13 L86.60 768.47 L89.55 768.69 L92.50 768.67 L95.45 768.52 L98.40 768.34 L101.35 767.83 L104.30 768.11 L107.25 767.62 L110.20 767.45 L113.15 766.28 L116.10 766.28 L119.05 765.73 L122.00 763.28 L124.95 759.36 L127.90 760.22 L130.85 764.76 L133.80 764.62 L136.75 764.35 L139.70 764.32 L142.65 764.69 L145.60 764.72 L148.55 764.09 L151.50 764.15 L154.45 764.60 L157.40 764.06 L160.35 763.66 L163.30 763.05 L166.25 739.82 L169.20 672.62 L172.15 661.36 L175.10 658.60 L178.05 660.69 L181.00 661.47 L183.95 666.57 L186.90 667.57 L189.85 671.46 L192.80 673.14 L195.75 673.96 L198.70 675.88 L201.65 676.86 L204.60 677.83 L207.55 676.83 L210.50 677.11 L213.45 675.80 L216.40 677.61 L219.35 677.23 L222.30 675.96 L225.25 678.11 L228.20 677.21 L231.15 676.26 L234.10 676.41 L237.05 678.22 L240.00 678.27 L242.95 678.23 L245.90 676.16 L248.85 677.82 L251.80 676.65 L254.75 676.32 L257.70 677.72 L260.65 677.92 L263.60 676.27 L266.55 677.14 L269.50 678.04 L272.45 676.96 L275.40 677.97 L278.35 678.11 L281.30 678.81 L284.25 677.00 L287.20 676.64 L290.15 677.36 L293.10 676.64 L296.05 678.92 L299.00 678.44 L301.95 677.88 L304.90 676.74 L307.85 676.78 L310.80 694.50 L313.75 715.40 L316.70 733.63 L319.65 743.38 L322.60 743.47 L325.55 744.42 L328.50 744.37 L331.45 744.83 L334.40 745.17 L337.35 745.62 L340.30 757.98 L343.25 768.59 L346.20 769.21" stroke="#1992b3" stroke-width="1.6" fill="none" stroke-linejoin="round"/>
<path d="M51.20 769.72V769.35M54.15 769.20V768.82M57.10 769.92V769.53M60.05 769.73V769.33M63.00 769.07V768.65M65.95 769.57V769.14M68.90 769.71V769.27M71.85 769.69V769.24M74.80 769.07V768.60M77.75 769.26V768.78M80.70 768.49V768.00M83.65 768.54V768.04M86.60 768.37V767.85M89.55 769.11V768.58M92.50 769.25V768.71M95.45 769.18V768.63M98.40 768.69V768.12M101.35 768.40V767.82M104.30 768.63V768.05M107.25 768.81V768.21M110.20 768.56V767.94M113.15 768.24V767.57M116.10 768.09V767.37M119.05 767.92V767.14M122.00 767.71V766.89M124.95 767.82V766.94M127.90 768.33V767.40M130.85 767.45V766.46M133.80 767.96V766.92M136.75 767.56V766.47M139.70 767.69V766.54M142.65 767.19V765.99M145.60 767.69V766.44M148.55 767.55V766.24M151.50 767.46V766.10M154.45 767.47V766.05M157.40 766.57V765.10M160.35 766.91V761.89M163.30 767.19V758.62M166.25 721.45V704.32M169.20 681.63V669.39M172.15 674.80V665.01M175.10 675.00V665.21M178.05 672.06V662.27M181.00 671.82V662.02M183.95 670.58V660.79M186.90 673.84V664.05M189.85 672.47V662.68M192.80 671.21V661.42M195.75 671.13V661.34M198.70 670.86V661.07M201.65 674.07V664.28M204.60 673.14V663.35M207.55 673.78V663.99M210.50 673.52V663.73M213.45 670.64V660.85M216.40 672.07V662.28M219.35 670.80V661.01M222.30 672.85V663.06M225.25 671.04V661.24M228.20 672.57V662.77M231.15 673.26V663.47M234.10 671.36V661.57M237.05 670.74V660.95M240.00 673.83V664.04M242.95 672.03V662.23M245.90 671.94V662.15M248.85 673.42V663.62M251.80 672.86V663.07M254.75 673.70V663.90M257.70 673.47V663.67M260.65 673.28V663.49M263.60 672.01V662.22M266.55 671.82V662.03M269.50 673.47V663.68M272.45 674.17V664.38M275.40 673.01V663.22M278.35 671.73V661.93M281.30 673.54V663.74M284.25 673.07V663.28M287.20 673.47V663.68M290.15 671.30V661.50M293.10 672.20V662.41M296.05 673.98V664.19M299.00 673.84V664.05M301.95 672.76V662.97M304.90 672.20V662.40M307.85 671.87V662.08M310.80 758.51V752.39M313.75 765.77V760.88M316.70 765.19V760.29M319.65 765.50V760.61M322.60 765.64V760.75M325.55 765.62V760.72M328.50 764.90V760.01M331.45 768.06V766.22M334.40 767.78V765.94M337.35 768.01V766.17M340.30 767.94V766.11M343.25 767.45V765.61M346.20 767.30V765.47" stroke="#707070" stroke-width="1.0" fill="none"/>
<path d="M48.00 769.35H54.40M50.95 768.82H57.35M53.90 769.53H60.30M56.85 769.33H63.25M59.80 768.65H66.20M62.75 769.14H69.15M65.70 769.27H72.10M68.65 769.24H75.05M71.60 768.60H78.00M74.55 768.78H80.95M77.50 768.00H83.90M80.45 768.04H86.85M83.40 767.85H89.80M86.35 768.58H92.75M89.30 768.71H95.70M92.25 768.63H98.65M95.20 768.12H101.60M98.15 767.82H104.55M101.10 768.05H107.50M104.05 768.21H110.45M107.00 767.94H113.40M109.95 767.57H116.35M112.90 767.37H119.30M115.85 767.14H122.25M118.80 766.89H125.20M121.75 766.94H128.15M124.70 767.40H131.10M127.65 766.46H134.05M130.60 766.92H137.00M133.55 766.47H139.95M136.50 766.54H142.90M139.45 765.99H145.85M142.40 766.44H148.80M145.35 766.24H151.75M148.30 766.10H154.70M151.25 766.05H157.65M154.20 765.10H160.60M157.15 761.89H163.55M160.10 758.62H166.50M163.05 704.32H169.45M166.00 669.39H172.40M168.95 665.01H175.35M171.90 665.21H178.30M174.85 662.27H181.25M177.80 662.02H184.20M180.75 660.79H187.15M183.70 664.05H190.10M186.65 662.68H193.05M189.60 661.42H196.00M192.55 661.34H198.95M195.50 661.07H201.90M198.45 664.28H204.85M201.40 663.35H207.80M204.35 663.99H210.75M207.30 663.73H213.70M210.25 660.85H216.65M213.20 662.28H219.60M216.15 661.01H222.55M219.10 663.06H225.50M222.05 661.24H228.45M225.00 662.77H231.40M227.95 663.47H234.35M230.90 661.57H237.30M233.85 660.95H240.25M236.80 664.04H243.20M239.75 662.23H246.15M242.70 662.15H249.10M245.65 663.62H252.05M248.60 663.07H255.00M251.55 663.90H257.95M254.50 663.67H260.90M257.45 663.49H263.85M260.40 662.22H266.80M263.35 662.03H269.75M266.30 663.68H272.70M269.25 664.38H275.65M272.20 663.22H278.60M275.15 661.93H281.55M278.10 663.74H284.50M281.05 663.28H287.45M284.00 663.68H290.40M286.95 661.50H293.35M289.90 662.41H296.30M292.85 664.19H299.25M295.80 664.05H302.20M298.75 662.97H305.15M301.70 662.40H308.10M304.65 662.08H311.05M307.60 752.39H314.00M310.55 760.88H316.95M313.50 760.29H319.90M316.45 760.61H322.85M319.40 760.75H325.80M322.35 760.72H328.75M325.30 760.01H331.70M328.25 766.22H334.65M331.20 765.94H337.60M334.15 766.17H340.55M337.10 766.11H343.50M340.05 765.61H346.45M343.00 765.47H349.40" stroke="#616161" stroke-width="1.3" fill="none"/>
<path d="M51.20 769.72 L54.15 769.20 L57.10 769.92 L60.05 769.73 L63.00 769.07 L65.95 769.57 L68.90 769.71 L71.85 769.69 L74.80 769.07 L77.75 769.26 L80.70 768.49 L83.65 768.54 L86.60 768.37 L89.55 769.11 L92.50 769.25 L95.45 769.18 L98.40 768.69 L101.35 768.40 L104.30 768.63 L107.25 768.81 L110.20 768.56 L113.15 768.24 L116.10 768.09 L119.05 767.92 L122.00 767.71 L124.95 767.82 L127.90 768.33 L130.85 767.45 L133.80 767.96 L136.75 767.56 L139.70 767.69 L142.65 767.19 L145.60 767.69 L148.55 767.55 L151.50 767.46 L154.45 767.47 L157.40 766.57 L160.35 766.91 L163.30 767.19 L166.25 721.45 L169.20 681.63 L172.15 674.80 L175.10 675.00 L178.05 672.06 L181.00 671.82 L183.95 670.58 L186.90 673.84 L189.85 672.47 L192.80 671.21 L195.75 671.13 L198.70 670.86 L201.65 674.07 L204.60 673.14 L207.55 673.78 L210.50 673.52 L213.45 670.64 L216.40 672.07 L219.35 670.80 L222.30 672.85 L225.25 671.04 L228.20 672.57 L231.15 673.26 L234.10 671.36 L237.05 670.74 L240.00 673.83 L242.95 672.03 L245.90 671.94 L248.85 673.42 L251.80 672.86 L254.75 673.70 L257.70 673.47 L260.65 673.28 L263.60 672.01 L266.55 671.82 L269.50 673.47 L272.45 674.17 L275.40 673.01 L278.35 671.73 L281.30 673.54 L284.25 673.07 L287.20 673.47 L290.15 671.30 L293.10 672.20 L296.05 673.98 L299.00 673.84 L301.95 672.76 L304.90 672.20 L307.85 671.87 L310.80 758.51 L313.75 765.77 L316.70 765.19 L319.65 765.50 L322.60 765.64 L325.55 765.62 L328.50 764.90 L331.45 768.06 L334.40 767.78 L337.35 768.01 L340.30 767.94 L343.25 767.45 L346.20 767.30" stroke="#616161" stroke-width="1.6" fill="none" stroke-linejoin="round"/>
<path d="M51.20 586.70V783.00H346.20" stroke="#111" stroke-width="1.4" fill="none"/>
<line x1="47.20" y1="770.30" x2="51.20" y2="770.30" stroke="#111" stroke-width="1.5" stroke-linecap="butt"/>
<text x="45.0" y="774.5" font-size="10" font-weight="bold" text-anchor="end" fill="#111" stroke="#111" stroke-width="0.25">0</text>
<line x1="47.20" y1="709.10" x2="51.20" y2="709.10" stroke="#111" stroke-width="1.5" stroke-linecap="butt"/>
<text x="45.0" y="713.3" font-size="10" font-weight="bold" text-anchor="end" fill="#111" stroke="#111" stroke-width="0.25">50</text>
<line x1="47.20" y1="647.90" x2="51.20" y2="647.90" stroke="#111" stroke-width="1.5" stroke-linecap="butt"/>
<text x="45.0" y="652.1" font-size="10" font-weight="bold" text-anchor="end" fill="#111" stroke="#111" stroke-width="0.25">100</text>
<line x1="47.20" y1="586.70" x2="51.20" y2="586.70" stroke="#111" stroke-width="1.5" stroke-linecap="butt"/>
<text x="45.0" y="590.9" font-size="10" font-weight="bold" text-anchor="end" fill="#111" stroke="#111" stroke-width="0.25">150</text>
<line x1="49.00" y1="739.70" x2="51.20" y2="739.70" stroke="#111" stroke-width="1.3" stroke-linecap="butt"/>
<line x1="49.00" y1="678.50" x2="51.20" y2="678.50" stroke="#111" stroke-width="1.3" stroke-linecap="butt"/>
<line x1="49.00" y1="617.30" x2="51.20" y2="617.30" stroke="#111" stroke-width="1.3" stroke-linecap="butt"/>
<line x1="51.20" y1="783.00" x2="51.20" y2="787.50" stroke="#111" stroke-width="1.5" stroke-linecap="butt"/>
<text x="51.2" y="800.3" font-size="10" font-weight="bold" text-anchor="middle" fill="#111" stroke="#111" stroke-width="0.25">0</text>
<line x1="110.20" y1="783.00" x2="110.20" y2="787.50" stroke="#111" stroke-width="1.5" stroke-linecap="butt"/>
<text x="110.2" y="800.3" font-size="10" font-weight="bold" text-anchor="middle" fill="#111" stroke="#111" stroke-width="0.25">50</text>
<line x1="169.20" y1="783.00" x2="169.20" y2="787.50" stroke="#111" stroke-width="1.5" stroke-linecap="butt"/>
<text x="169.2" y="800.3" font-size="10" font-weight="bold" text-anchor="middle" fill="#111" stroke="#111" stroke-width="0.25">100</text>
<line x1="228.20" y1="783.00" x2="228.20" y2="787.50" stroke="#111" stroke-width="1.5" stroke-linecap="butt"/>
<text x="228.2" y="800.3" font-size="10" font-weight="bold" text-anchor="middle" fill="#111" stroke="#111" stroke-width="0.25">150</text>
<line x1="287.20" y1="783.00" x2="287.20" y2="787.50" stroke="#111" stroke-width="1.5" stroke-linecap="butt"/>
<text x="287.2" y="800.3" font-size="10" font-weight="bold" text-anchor="middle" fill="#111" stroke="#111" stroke-width="0.25">200</text>
<line x1="346.20" y1="783.00" x2="346.20" y2="787.50" stroke="#111" stroke-width="1.5" stroke-linecap="butt"/>
<text x="346.2" y="800.3" font-size="10" font-weight="bold" text-anchor="middle" fill="#111" stroke="#111" stroke-width="0.25">250</text>
<line x1="80.70" y1="783.00" x2="80.70" y2="785.50" stroke="#111" stroke-width="1.3" stroke-linecap="butt"/>
<line x1="139.70" y1="783.00" x2="139.70" y2="785.50" stroke="#111" stroke-width="1.3" stroke-linecap="butt"/>
<line x1="198.70" y1="783.00" x2="198.70" y2="785.50" stroke="#111" stroke-width="1.3" stroke-linecap="butt"/>
<line x1="257.70" y1="783.00" x2="257.70" y2="785.50" stroke="#111" stroke-width="1.3" stroke-linecap="butt"/>
<line x1="316.70" y1="783.00" x2="316.70" y2="785.50" stroke="#111" stroke-width="1.3" stroke-linecap="butt"/>
<text x="199.2" y="815.5" font-size="10.5" font-weight="bold" text-anchor="middle" fill="#111" stroke="#111" stroke-width="0.25">Time [s]</text>
<text x="23.0" y="682.8" font-size="11.2" font-weight="bold" text-anchor="middle" fill="#111" stroke="#111" stroke-width="0.25" transform="rotate(-90 23.0 682.8)">CD [pA/pF]</text>
<text x="5.3" y="582.5" font-size="24" font-weight="bold" text-anchor="start" fill="#111" stroke="#111" stroke-width="0.25">E</text>
<text x="75.4" y="687.6" font-size="10.8" font-weight="bold" text-anchor="start" fill="#111" stroke="#111" stroke-width="0.25">LNCaP</text>
<line x1="58.80" y1="702.10" x2="69.20" y2="702.10" stroke="#616161" stroke-width="1.7" stroke-linecap="butt"/>
<text x="75.4" y="706.2" font-size="11" font-weight="normal" text-anchor="start" fill="#222" stroke="#222" stroke-width="0.15">Control</text>
<line x1="58.80" y1="718.60" x2="69.20" y2="718.60" stroke="#e8731c" stroke-width="1.7" stroke-linecap="butt"/>
<text x="75.4" y="722.7" font-size="11" font-weight="normal" text-anchor="start" fill="#222" stroke="#222" stroke-width="0.15">p53 WT</text>
<line x1="58.80" y1="735.10" x2="69.20" y2="735.10" stroke="#1992b3" stroke-width="1.7" stroke-linecap="butt"/>
<text x="75.4" y="739.2" font-size="11" font-weight="normal" text-anchor="start" fill="#222" stroke="#222" stroke-width="0.15">p53 MUT</text>
<path d="M64.40 659.20 L65.05 659.20 L65.70 659.20 L66.36 659.20 L67.01 659.20 L67.66 659.20 L68.31 659.20 L68.96 659.20 L69.62 659.20 L70.27 659.20 L70.92 659.20 L71.57 659.20 L72.22 659.20 L72.88 659.20 L73.53 659.20 L74.18 659.20 L74.83 659.20 L75.48 659.20 L76.14 659.20 L76.79 659.20 L77.44 659.20 L78.09 659.20 L78.74 659.20 L79.40 659.20 L80.05 659.20 L80.70 659.20 L81.35 659.20 L82.00 659.20 L82.66 659.20 L83.31 659.20 L83.96 659.20 L84.61 659.20 L85.26 659.20 L85.92 659.20 L86.57 659.20 L87.22 659.20 L87.87 659.20 L88.52 659.20 L89.18 659.20 L89.83 659.20 L90.48 659.20 L91.13 659.20 L91.78 659.20 L92.44 659.20 L93.09 659.20 L93.74 659.20 L94.39 659.20 L95.04 659.20 L95.70 659.20 L96.35 659.20 L97.00 659.20 L97.65 659.18 L98.30 659.12 L98.96 659.04 L99.61 658.94 L100.26 658.84 L100.91 658.73 L101.56 658.60 L102.22 658.45 L102.87 658.28 L103.52 658.09 L104.17 657.88 L104.82 657.66 L105.48 657.43 L106.13 657.18 L106.78 656.92 L107.43 656.64 L108.08 656.36 L108.74 656.06 L109.39 655.76 L110.04 655.45 L110.69 655.13 L111.34 654.80 L112.00 654.47 L112.65 654.12 L113.30 653.75 L113.95 653.36 L114.60 652.95 L115.26 652.52 L115.91 652.06 L116.56 651.59 L117.21 651.09 L117.86 650.57 L118.52 650.03 L119.17 649.46 L119.82 648.88 L120.47 648.27 L121.12 647.64 L121.78 646.98 L122.43 646.31 L123.08 645.61 L123.73 644.89 L124.38 644.15 L125.04 643.35 L125.69 642.47 L126.34 641.53 L126.99 640.52 L127.64 639.44 L128.30 638.31 L128.95 637.13 L129.60 635.90 L130.25 634.62 L130.90 633.31 L131.56 631.95 L132.21 630.56 L132.86 629.14 L133.51 627.64 L134.16 626.06 L134.82 624.41 L135.47 622.67 L136.12 620.87 L136.77 619.00 L137.42 617.07 L138.08 615.07 L138.73 613.02 L139.38 610.91 L140.03 608.75 L140.68 606.55" stroke="#5a5a5a" stroke-width="1.0" fill="none" stroke-linejoin="round"/>
<path d="M64.40 659.20 L65.05 659.20 L65.70 659.20 L66.36 659.20 L67.01 659.20 L67.66 659.20 L68.31 659.20 L68.96 659.20 L69.62 659.20 L70.27 659.20 L70.92 659.20 L71.57 659.20 L72.22 659.20 L72.88 659.20 L73.53 659.20 L74.18 659.20 L74.83 659.20 L75.48 659.20 L76.14 659.20 L76.79 659.20 L77.44 659.20 L78.09 659.20 L78.74 659.20 L79.40 659.20 L80.05 659.20 L80.70 659.20 L81.35 659.20 L82.00 659.20 L82.66 659.20 L83.31 659.20 L83.96 659.20 L84.61 659.20 L85.26 659.20 L85.92 659.20 L86.57 659.20 L87.22 659.20 L87.87 659.20 L88.52 659.20 L89.18 659.20 L89.83 659.20 L90.48 659.20 L91.13 659.20 L91.78 659.20 L92.44 659.20 L93.09 659.20 L93.74 659.20 L94.39 659.20 L95.04 659.20 L95.70 659.20 L96.35 659.20 L97.00 659.20 L97.65 659.19 L98.30 659.16 L98.96 659.12 L99.61 659.07 L100.26 659.02 L100.91 658.96 L101.56 658.89 L102.22 658.80 L102.87 658.70 L103.52 658.59 L104.17 658.47 L104.82 658.34 L105.48 658.19 L106.13 658.04 L106.78 657.88 L107.43 657.70 L108.08 657.52 L108.74 657.33 L109.39 657.14 L110.04 656.93 L110.69 656.72 L111.34 656.51 L112.00 656.29 L112.65 656.05 L113.30 655.78 L113.95 655.50 L114.60 655.19 L115.26 654.85 L115.91 654.50 L116.56 654.12 L117.21 653.72 L117.86 653.29 L118.52 652.85 L119.17 652.39 L119.82 651.90 L120.47 651.39 L121.12 650.87 L121.78 650.32 L122.43 649.76 L123.08 649.17 L123.73 648.57 L124.38 647.94 L125.04 647.25 L125.69 646.48 L126.34 645.62 L126.99 644.69 L127.64 643.70 L128.30 642.65 L128.95 641.56 L129.60 640.42 L130.25 639.26 L130.90 638.08 L131.56 636.88 L132.21 635.68 L132.86 634.47 L133.51 633.23 L134.16 631.95 L134.82 630.62 L135.47 629.25 L136.12 627.85 L136.77 626.41 L137.42 624.93 L138.08 623.42 L138.73 621.87 L139.38 620.30 L140.03 618.69 L140.68 617.05" stroke="#1992b3" stroke-width="1.3" fill="none" stroke-linejoin="round"/>
<path d="M64.40 659.20 L65.05 659.20 L65.70 659.20 L66.36 659.20 L67.01 659.20 L67.66 659.20 L68.31 659.20 L68.96 659.20 L69.62 659.20 L70.27 659.20 L70.92 659.20 L71.57 659.20 L72.22 659.20 L72.88 659.20 L73.53 659.20 L74.18 659.20 L74.83 659.20 L75.48 659.20 L76.14 659.20 L76.79 659.20 L77.44 659.20 L78.09 659.20 L78.74 659.20 L79.40 659.20 L80.05 659.20 L80.70 659.20 L81.35 659.20 L82.00 659.20 L82.66 659.20 L83.31 659.20 L83.96 659.20 L84.61 659.20 L85.26 659.20 L85.92 659.20 L86.57 659.20 L87.22 659.20 L87.87 659.20 L88.52 659.20 L89.18 659.20 L89.83 659.20 L90.48 659.20 L91.13 659.20 L91.78 659.20 L92.44 659.20 L93.09 659.20 L93.74 659.20 L94.39 659.20 L95.04 659.20 L95.70 659.20 L96.35 659.20 L97.00 659.20 L97.65 659.19 L98.30 659.16 L98.96 659.12 L99.61 659.07 L100.26 659.02 L100.91 658.96 L101.56 658.89 L102.22 658.80 L102.87 658.70 L103.52 658.59 L104.17 658.47 L104.82 658.33 L105.48 658.19 L106.13 658.03 L106.78 657.87 L107.43 657.70 L108.08 657.52 L108.74 657.33 L109.39 657.13 L110.04 656.93 L110.69 656.72 L111.34 656.51 L112.00 656.29 L112.65 656.05 L113.30 655.80 L113.95 655.52 L114.60 655.22 L115.26 654.91 L115.91 654.57 L116.56 654.21 L117.21 653.83 L117.86 653.43 L118.52 653.01 L119.17 652.57 L119.82 652.11 L120.47 651.62 L121.12 651.12 L121.78 650.60 L122.43 650.06 L123.08 649.49 L123.73 648.91 L124.38 648.31 L125.04 647.64 L125.69 646.87 L126.34 646.03 L126.99 645.11 L127.64 644.13 L128.30 643.08 L128.95 641.99 L129.60 640.86 L130.25 639.69 L130.90 638.49 L131.56 637.28 L132.21 636.05 L132.86 634.82 L133.51 633.54 L134.16 632.20 L134.82 630.82 L135.47 629.38 L136.12 627.90 L136.77 626.37 L137.42 624.80 L138.08 623.19 L138.73 621.54 L139.38 619.84 L140.03 618.12 L140.68 616.36" stroke="#e8731c" stroke-width="1.3" fill="none" stroke-linejoin="round"/>
<line x1="64.40" y1="659.20" x2="145.90" y2="659.20" stroke="#555" stroke-width="0.9" stroke-linecap="butt"/>
<line x1="97.00" y1="587.20" x2="97.00" y2="667.20" stroke="#555" stroke-width="0.9" stroke-linecap="butt"/>
<line x1="95.00" y1="623.20" x2="97.00" y2="623.20" stroke="#555" stroke-width="0.9" stroke-linecap="butt"/>
<text x="94.5" y="625.5" font-size="6.6" font-weight="bold" text-anchor="end" fill="#222" stroke="#222" stroke-width="0.25">2</text>
<line x1="95.00" y1="587.20" x2="97.00" y2="587.20" stroke="#555" stroke-width="0.9" stroke-linecap="butt"/>
<text x="94.5" y="589.5" font-size="6.6" font-weight="bold" text-anchor="end" fill="#222" stroke="#222" stroke-width="0.25">4</text>
<line x1="64.40" y1="659.20" x2="64.40" y2="661.20" stroke="#555" stroke-width="0.9" stroke-linecap="butt"/>
<text x="64.4" y="668.2" font-size="6.6" font-weight="bold" text-anchor="middle" fill="#222" stroke="#222" stroke-width="0.25">-100</text>
<line x1="80.70" y1="659.20" x2="80.70" y2="661.20" stroke="#555" stroke-width="0.9" stroke-linecap="butt"/>
<text x="80.7" y="668.2" font-size="6.6" font-weight="bold" text-anchor="middle" fill="#222" stroke="#222" stroke-width="0.25">-50</text>
<line x1="113.30" y1="659.20" x2="113.30" y2="661.20" stroke="#555" stroke-width="0.9" stroke-linecap="butt"/>
<text x="113.3" y="668.2" font-size="6.6" font-weight="bold" text-anchor="middle" fill="#222" stroke="#222" stroke-width="0.25">50</text>
<line x1="129.60" y1="659.20" x2="129.60" y2="661.20" stroke="#555" stroke-width="0.9" stroke-linecap="butt"/>
<text x="129.6" y="668.2" font-size="6.6" font-weight="bold" text-anchor="middle" fill="#222" stroke="#222" stroke-width="0.25">100</text>
<line x1="145.90" y1="659.20" x2="145.90" y2="661.20" stroke="#555" stroke-width="0.9" stroke-linecap="butt"/>
<text x="145.9" y="668.2" font-size="6.6" font-weight="bold" text-anchor="middle" fill="#222" stroke="#222" stroke-width="0.25">150</text>
<text x="99.5" y="596.2" font-size="6.6" font-weight="bold" text-anchor="start" fill="#222" stroke="#222" stroke-width="0.25">nA</text>
<text x="66.4" y="655.6" font-size="6.6" font-weight="bold" text-anchor="start" fill="#222" stroke="#222" stroke-width="0.25">mV</text>
<path d="M441.2 70.6V52.5H519.6V82.2" stroke="#222" stroke-width="1.1" fill="none"/>
<text x="480.6" y="48.0" font-size="9" font-weight="normal" text-anchor="middle" fill="#222" stroke="#222" stroke-width="0.15">ns</text>
<path d="M441.2 92.0V76.7H480.5V179.0" stroke="#222" stroke-width="1.1" fill="none"/>
<text x="461.0" y="76.8" font-size="18" font-weight="bold" text-anchor="middle" fill="#222" stroke="#222" stroke-width="0.25">**</text>
<line x1="441.25" y1="132.00" x2="441.25" y2="115.70" stroke="#222" stroke-width="1.2" stroke-linecap="butt"/>
<line x1="435.05" y1="115.70" x2="447.45" y2="115.70" stroke="#222" stroke-width="1.3" stroke-linecap="butt"/>
<rect x="428.70" y="132.00" width="25.10" height="99.30" fill="#626262" stroke="#111" stroke-width="1.5"/>
<line x1="480.50" y1="207.30" x2="480.50" y2="201.00" stroke="#222" stroke-width="1.2" stroke-linecap="butt"/>
<line x1="474.30" y1="201.00" x2="486.70" y2="201.00" stroke="#222" stroke-width="1.3" stroke-linecap="butt"/>
<rect x="468.00" y="207.30" width="25.00" height="24.00" fill="#db6709" stroke="#111" stroke-width="1.5"/>
<line x1="519.85" y1="127.20" x2="519.85" y2="113.00" stroke="#222" stroke-width="1.2" stroke-linecap="butt"/>
<line x1="513.65" y1="113.00" x2="526.05" y2="113.00" stroke="#222" stroke-width="1.3" stroke-linecap="butt"/>
<rect x="507.30" y="127.20" width="25.10" height="104.10" fill="#0b7a96" stroke="#111" stroke-width="1.5"/>
<circle cx="441.20" cy="99.10" r="2.6" fill="#fff" stroke="#222" stroke-width="1.0"/>
<circle cx="436.00" cy="112.30" r="2.6" fill="#fff" stroke="#222" stroke-width="1.0"/>
<circle cx="446.40" cy="112.30" r="2.6" fill="#fff" stroke="#222" stroke-width="1.0"/>
<circle cx="441.20" cy="151.00" r="2.6" fill="#fff" stroke="#222" stroke-width="1.0"/>
<circle cx="441.20" cy="182.00" r="2.6" fill="#fff" stroke="#222" stroke-width="1.0"/>
<circle cx="480.50" cy="185.80" r="2.6" fill="#fff" stroke="#222" stroke-width="1.0"/>
<circle cx="475.30" cy="207.30" r="2.6" fill="#fff" stroke="#222" stroke-width="1.0"/>
<circle cx="485.70" cy="207.30" r="2.6" fill="#fff" stroke="#222" stroke-width="1.0"/>
<circle cx="480.50" cy="213.50" r="2.6" fill="#fff" stroke="#222" stroke-width="1.0"/>
<circle cx="480.50" cy="220.00" r="2.6" fill="#fff" stroke="#222" stroke-width="1.0"/>
<circle cx="519.60" cy="88.00" r="2.6" fill="#fff" stroke="#222" stroke-width="1.0"/>
<circle cx="519.60" cy="111.20" r="2.6" fill="#fff" stroke="#222" stroke-width="1.0"/>
<circle cx="514.40" cy="132.00" r="2.6" fill="#fff" stroke="#222" stroke-width="1.0"/>
<circle cx="524.80" cy="132.00" r="2.6" fill="#fff" stroke="#222" stroke-width="1.0"/>
<circle cx="519.60" cy="169.30" r="2.6" fill="#fff" stroke="#222" stroke-width="1.0"/>
<path d="M415.00 34.80V231.30H544.50" stroke="#111" stroke-width="1.4" fill="none"/>
<line x1="411.00" y1="231.30" x2="415.00" y2="231.30" stroke="#111" stroke-width="1.5" stroke-linecap="butt"/>
<text x="409.2" y="235.5" font-size="10" font-weight="bold" text-anchor="end" fill="#111" stroke="#111" stroke-width="0.25">0</text>
<line x1="411.00" y1="165.80" x2="415.00" y2="165.80" stroke="#111" stroke-width="1.5" stroke-linecap="butt"/>
<text x="409.2" y="170.0" font-size="10" font-weight="bold" text-anchor="end" fill="#111" stroke="#111" stroke-width="0.25">50</text>
<line x1="411.00" y1="100.30" x2="415.00" y2="100.30" stroke="#111" stroke-width="1.5" stroke-linecap="butt"/>
<text x="409.2" y="104.5" font-size="10" font-weight="bold" text-anchor="end" fill="#111" stroke="#111" stroke-width="0.25">100</text>
<line x1="411.00" y1="34.80" x2="415.00" y2="34.80" stroke="#111" stroke-width="1.5" stroke-linecap="butt"/>
<text x="409.2" y="39.0" font-size="10" font-weight="bold" text-anchor="end" fill="#111" stroke="#111" stroke-width="0.25">150</text>
<line x1="441.25" y1="231.30" x2="441.25" y2="235.50" stroke="#111" stroke-width="1.5" stroke-linecap="butt"/>
<line x1="480.50" y1="231.30" x2="480.50" y2="235.50" stroke="#111" stroke-width="1.5" stroke-linecap="butt"/>
<line x1="519.85" y1="231.30" x2="519.85" y2="235.50" stroke="#111" stroke-width="1.5" stroke-linecap="butt"/>
<text x="444.2" y="245.3" font-size="10.6" font-weight="bold" text-anchor="end" fill="#111" stroke="#111" stroke-width="0.25" transform="rotate(-45 444.2 245.3)">Control</text>
<text x="483.5" y="245.3" font-size="10.6" font-weight="bold" text-anchor="end" fill="#111" stroke="#111" stroke-width="0.25" transform="rotate(-45 483.5 245.3)">p53 WT</text>
<text x="522.9" y="245.3" font-size="10.6" font-weight="bold" text-anchor="end" fill="#111" stroke="#111" stroke-width="0.25" transform="rotate(-45 522.9 245.3)">p53 MUT</text>
<text x="385.2" y="131.2" font-size="11.2" font-weight="bold" text-anchor="middle" fill="#111" stroke="#111" stroke-width="0.25" transform="rotate(-90 385.2 131.2)">CD [pA/pF]</text>
<text x="369.2" y="23.5" font-size="24" font-weight="bold" text-anchor="start" fill="#111" stroke="#111" stroke-width="0.25">B</text>
<path d="M441.3 339.0V324.4H519.5V404.0" stroke="#222" stroke-width="1.1" fill="none"/>
<text x="480.3" y="320.0" font-size="9" font-weight="normal" text-anchor="middle" fill="#222" stroke="#222" stroke-width="0.15">ns</text>
<path d="M441.3 351.0V345.8H480.7V455.0" stroke="#222" stroke-width="1.1" fill="none"/>
<text x="460.7" y="340.8" font-size="9" font-weight="normal" text-anchor="middle" fill="#222" stroke="#222" stroke-width="0.15">ns</text>
<line x1="441.15" y1="431.40" x2="441.15" y2="408.70" stroke="#222" stroke-width="1.2" stroke-linecap="butt"/>
<line x1="434.95" y1="408.70" x2="447.35" y2="408.70" stroke="#222" stroke-width="1.3" stroke-linecap="butt"/>
<rect x="428.70" y="431.40" width="24.90" height="83.80" fill="#626262" stroke="#111" stroke-width="1.5"/>
<line x1="480.65" y1="476.10" x2="480.65" y2="466.60" stroke="#222" stroke-width="1.2" stroke-linecap="butt"/>
<line x1="474.45" y1="466.60" x2="486.85" y2="466.60" stroke="#222" stroke-width="1.3" stroke-linecap="butt"/>
<rect x="468.50" y="476.10" width="24.30" height="39.10" fill="#db6709" stroke="#111" stroke-width="1.5"/>
<line x1="520.10" y1="449.60" x2="520.10" y2="440.70" stroke="#222" stroke-width="1.2" stroke-linecap="butt"/>
<line x1="513.90" y1="440.70" x2="526.30" y2="440.70" stroke="#222" stroke-width="1.3" stroke-linecap="butt"/>
<rect x="507.90" y="449.60" width="24.40" height="65.60" fill="#0b7a96" stroke="#111" stroke-width="1.5"/>
<circle cx="441.30" cy="357.40" r="2.6" fill="#fff" stroke="#222" stroke-width="1.0"/>
<circle cx="441.30" cy="366.20" r="2.6" fill="#fff" stroke="#222" stroke-width="1.0"/>
<circle cx="436.00" cy="455.80" r="2.6" fill="#fff" stroke="#222" stroke-width="1.0"/>
<circle cx="446.20" cy="452.50" r="2.6" fill="#fff" stroke="#222" stroke-width="1.0"/>
<circle cx="441.30" cy="472.80" r="2.6" fill="#fff" stroke="#222" stroke-width="1.0"/>
<circle cx="441.30" cy="480.40" r="2.6" fill="#fff" stroke="#222" stroke-width="1.0"/>
<circle cx="475.50" cy="459.00" r="2.6" fill="#fff" stroke="#222" stroke-width="1.0"/>
<circle cx="485.50" cy="462.00" r="2.6" fill="#fff" stroke="#222" stroke-width="1.0"/>
<circle cx="475.50" cy="465.70" r="2.6" fill="#fff" stroke="#222" stroke-width="1.0"/>
<circle cx="480.70" cy="483.20" r="2.6" fill="#fff" stroke="#222" stroke-width="1.0"/>
<circle cx="480.70" cy="506.80" r="2.6" fill="#fff" stroke="#222" stroke-width="1.0"/>
<circle cx="519.70" cy="410.40" r="2.6" fill="#fff" stroke="#222" stroke-width="1.0"/>
<circle cx="514.50" cy="440.70" r="2.6" fill="#fff" stroke="#222" stroke-width="1.0"/>
<circle cx="525.20" cy="440.70" r="2.6" fill="#fff" stroke="#222" stroke-width="1.0"/>
<circle cx="519.70" cy="462.60" r="2.6" fill="#fff" stroke="#222" stroke-width="1.0"/>
<circle cx="514.50" cy="470.40" r="2.6" fill="#fff" stroke="#222" stroke-width="1.0"/>
<circle cx="525.20" cy="469.70" r="2.6" fill="#fff" stroke="#222" stroke-width="1.0"/>
<path d="M414.50 316.80V515.20H544.50" stroke="#111" stroke-width="1.4" fill="none"/>
<line x1="410.50" y1="515.20" x2="414.50" y2="515.20" stroke="#111" stroke-width="1.5" stroke-linecap="butt"/>
<text x="408.7" y="519.4" font-size="10" font-weight="bold" text-anchor="end" fill="#111" stroke="#111" stroke-width="0.25">0</text>
<line x1="410.50" y1="475.52" x2="414.50" y2="475.52" stroke="#111" stroke-width="1.5" stroke-linecap="butt"/>
<text x="408.7" y="479.7" font-size="10" font-weight="bold" text-anchor="end" fill="#111" stroke="#111" stroke-width="0.25">50</text>
<line x1="410.50" y1="435.84" x2="414.50" y2="435.84" stroke="#111" stroke-width="1.5" stroke-linecap="butt"/>
<text x="408.7" y="440.0" font-size="10" font-weight="bold" text-anchor="end" fill="#111" stroke="#111" stroke-width="0.25">100</text>
<line x1="410.50" y1="396.16" x2="414.50" y2="396.16" stroke="#111" stroke-width="1.5" stroke-linecap="butt"/>
<text x="408.7" y="400.4" font-size="10" font-weight="bold" text-anchor="end" fill="#111" stroke="#111" stroke-width="0.25">150</text>
<line x1="410.50" y1="356.48" x2="414.50" y2="356.48" stroke="#111" stroke-width="1.5" stroke-linecap="butt"/>
<text x="408.7" y="360.7" font-size="10" font-weight="bold" text-anchor="end" fill="#111" stroke="#111" stroke-width="0.25">200</text>
<line x1="410.50" y1="316.80" x2="414.50" y2="316.80" stroke="#111" stroke-width="1.5" stroke-linecap="butt"/>
<text x="408.7" y="321.0" font-size="10" font-weight="bold" text-anchor="end" fill="#111" stroke="#111" stroke-width="0.25">250</text>
<line x1="441.15" y1="515.20" x2="441.15" y2="519.40" stroke="#111" stroke-width="1.5" stroke-linecap="butt"/>
<line x1="480.65" y1="515.20" x2="480.65" y2="519.40" stroke="#111" stroke-width="1.5" stroke-linecap="butt"/>
<line x1="520.10" y1="515.20" x2="520.10" y2="519.40" stroke="#111" stroke-width="1.5" stroke-linecap="butt"/>
<text x="444.1" y="529.2" font-size="10.6" font-weight="bold" text-anchor="end" fill="#111" stroke="#111" stroke-width="0.25" transform="rotate(-45 444.1 529.2)">Control</text>
<text x="483.6" y="529.2" font-size="10.6" font-weight="bold" text-anchor="end" fill="#111" stroke="#111" stroke-width="0.25" transform="rotate(-45 483.6 529.2)">p53 WT</text>
<text x="523.1" y="529.2" font-size="10.6" font-weight="bold" text-anchor="end" fill="#111" stroke="#111" stroke-width="0.25" transform="rotate(-45 523.1 529.2)">p53 MUT</text>
<text x="384.8" y="415.0" font-size="11.2" font-weight="bold" text-anchor="middle" fill="#111" stroke="#111" stroke-width="0.25" transform="rotate(-90 384.8 415.0)">CD [pA/pF]</text>
<text x="367.8" y="309.8" font-size="24" font-weight="bold" text-anchor="start" fill="#111" stroke="#111" stroke-width="0.25">D</text>
<path d="M437.4 608.0V590.7H512.3V619.6" stroke="#222" stroke-width="1.1" fill="none"/>
<text x="474.8" y="584.5" font-size="10" font-weight="normal" text-anchor="middle" fill="#222" stroke="#222" stroke-width="0.15">ns</text>
<path d="M437.4 645.6V613.3H475.0V667.0" stroke="#222" stroke-width="1.1" fill="none"/>
<text x="456.2" y="607.4" font-size="10" font-weight="normal" text-anchor="middle" fill="#222" stroke="#222" stroke-width="0.15">ns</text>
<line x1="437.55" y1="673.30" x2="437.55" y2="660.70" stroke="#222" stroke-width="1.2" stroke-linecap="butt"/>
<line x1="431.35" y1="660.70" x2="443.75" y2="660.70" stroke="#222" stroke-width="1.3" stroke-linecap="butt"/>
<rect x="426.00" y="673.30" width="23.10" height="99.30" fill="#626262" stroke="#111" stroke-width="1.5"/>
<line x1="475.00" y1="700.00" x2="475.00" y2="690.00" stroke="#222" stroke-width="1.2" stroke-linecap="butt"/>
<line x1="468.80" y1="690.00" x2="481.20" y2="690.00" stroke="#222" stroke-width="1.3" stroke-linecap="butt"/>
<rect x="463.30" y="700.00" width="23.40" height="72.60" fill="#db6709" stroke="#111" stroke-width="1.5"/>
<line x1="512.35" y1="682.00" x2="512.35" y2="665.60" stroke="#222" stroke-width="1.2" stroke-linecap="butt"/>
<line x1="506.15" y1="665.60" x2="518.55" y2="665.60" stroke="#222" stroke-width="1.3" stroke-linecap="butt"/>
<rect x="500.60" y="682.00" width="23.50" height="90.60" fill="#0b7a96" stroke="#111" stroke-width="1.5"/>
<circle cx="432.60" cy="653.40" r="2.6" fill="#fff" stroke="#222" stroke-width="1.0"/>
<circle cx="442.40" cy="652.00" r="2.6" fill="#fff" stroke="#222" stroke-width="1.0"/>
<circle cx="437.40" cy="686.30" r="2.6" fill="#fff" stroke="#222" stroke-width="1.0"/>
<circle cx="437.40" cy="697.70" r="2.6" fill="#fff" stroke="#222" stroke-width="1.0"/>
<circle cx="475.00" cy="673.50" r="2.6" fill="#fff" stroke="#222" stroke-width="1.0"/>
<circle cx="475.00" cy="695.80" r="2.6" fill="#fff" stroke="#222" stroke-width="1.0"/>
<circle cx="470.00" cy="716.00" r="2.6" fill="#fff" stroke="#222" stroke-width="1.0"/>
<circle cx="479.60" cy="711.90" r="2.6" fill="#fff" stroke="#222" stroke-width="1.0"/>
<circle cx="512.30" cy="624.40" r="2.6" fill="#fff" stroke="#222" stroke-width="1.0"/>
<circle cx="512.40" cy="671.80" r="2.6" fill="#fff" stroke="#222" stroke-width="1.0"/>
<circle cx="512.40" cy="693.10" r="2.6" fill="#fff" stroke="#222" stroke-width="1.0"/>
<circle cx="507.70" cy="708.60" r="2.6" fill="#fff" stroke="#222" stroke-width="1.0"/>
<circle cx="516.70" cy="707.80" r="2.6" fill="#fff" stroke="#222" stroke-width="1.0"/>
<path d="M412.70 585.70V772.60H537.70" stroke="#111" stroke-width="1.4" fill="none"/>
<line x1="408.70" y1="772.60" x2="412.70" y2="772.60" stroke="#111" stroke-width="1.5" stroke-linecap="butt"/>
<text x="406.9" y="776.8" font-size="10" font-weight="bold" text-anchor="end" fill="#111" stroke="#111" stroke-width="0.25">0</text>
<line x1="408.70" y1="710.30" x2="412.70" y2="710.30" stroke="#111" stroke-width="1.5" stroke-linecap="butt"/>
<text x="406.9" y="714.5" font-size="10" font-weight="bold" text-anchor="end" fill="#111" stroke="#111" stroke-width="0.25">50</text>
<line x1="408.70" y1="648.00" x2="412.70" y2="648.00" stroke="#111" stroke-width="1.5" stroke-linecap="butt"/>
<text x="406.9" y="652.2" font-size="10" font-weight="bold" text-anchor="end" fill="#111" stroke="#111" stroke-width="0.25">100</text>
<line x1="408.70" y1="585.70" x2="412.70" y2="585.70" stroke="#111" stroke-width="1.5" stroke-linecap="butt"/>
<text x="406.9" y="589.9" font-size="10" font-weight="bold" text-anchor="end" fill="#111" stroke="#111" stroke-width="0.25">150</text>
<line x1="437.55" y1="772.60" x2="437.55" y2="776.80" stroke="#111" stroke-width="1.5" stroke-linecap="butt"/>
<line x1="475.00" y1="772.60" x2="475.00" y2="776.80" stroke="#111" stroke-width="1.5" stroke-linecap="butt"/>
<line x1="512.35" y1="772.60" x2="512.35" y2="776.80" stroke="#111" stroke-width="1.5" stroke-linecap="butt"/>
<text x="440.6" y="786.6" font-size="10.6" font-weight="bold" text-anchor="end" fill="#111" stroke="#111" stroke-width="0.25" transform="rotate(-45 440.6 786.6)">Control</text>
<text x="478.0" y="786.6" font-size="10.6" font-weight="bold" text-anchor="end" fill="#111" stroke="#111" stroke-width="0.25" transform="rotate(-45 478.0 786.6)">p53 WT</text>
<text x="515.4" y="786.6" font-size="10.6" font-weight="bold" text-anchor="end" fill="#111" stroke="#111" stroke-width="0.25" transform="rotate(-45 515.4 786.6)">p53 MUT</text>
<text x="384.2" y="678.0" font-size="11.2" font-weight="bold" text-anchor="middle" fill="#111" stroke="#111" stroke-width="0.25" transform="rotate(-90 384.2 678.0)">CD [pA/pF]</text>
<text x="371.0" y="582.0" font-size="24" font-weight="bold" text-anchor="start" fill="#111" stroke="#111" stroke-width="0.25">F</text>
</svg></body></html>
